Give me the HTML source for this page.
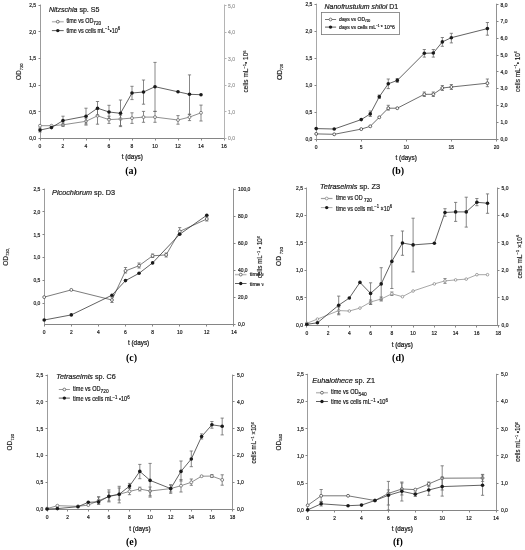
<!DOCTYPE html>
<html><head><meta charset="utf-8"><title>Growth curves</title>
<style>html,body{margin:0;padding:0;background:#fff;overflow:hidden}svg{display:block}</style>
</head><body>
<svg width="525" height="550" viewBox="0 0 525 550" font-family="'Liberation Sans', Arial, sans-serif">
<defs><clipPath id="clipc"><rect x="0" y="180" width="263.5" height="190"/></clipPath></defs>
<rect width="525" height="550" fill="#fff"/>
<line x1="40.50" y1="4.50" x2="40.50" y2="139.00" stroke="#9c9c9c" stroke-width="1.0" />
<line x1="40.50" y1="138.50" x2="224.50" y2="138.50" stroke="#858585" stroke-width="1.0" />
<line x1="224.50" y1="4.50" x2="224.50" y2="139.00" stroke="#b4b4b4" stroke-width="1.0" />
<line x1="40.50" y1="138.50" x2="40.50" y2="140.50" stroke="#858585" stroke-width="1.0" />
<text x="40.00" y="147.80" font-size="6.2" text-anchor="middle" textLength="2.76" lengthAdjust="spacingAndGlyphs" fill="#1a1a1a" stroke="#1a1a1a" stroke-width="0.22">0</text>
<line x1="63.50" y1="138.50" x2="63.50" y2="140.50" stroke="#858585" stroke-width="1.0" />
<text x="63.00" y="147.80" font-size="6.2" text-anchor="middle" textLength="2.76" lengthAdjust="spacingAndGlyphs" fill="#1a1a1a" stroke="#1a1a1a" stroke-width="0.22">2</text>
<line x1="86.50" y1="138.50" x2="86.50" y2="140.50" stroke="#858585" stroke-width="1.0" />
<text x="86.00" y="147.80" font-size="6.2" text-anchor="middle" textLength="2.76" lengthAdjust="spacingAndGlyphs" fill="#1a1a1a" stroke="#1a1a1a" stroke-width="0.22">4</text>
<line x1="109.50" y1="138.50" x2="109.50" y2="140.50" stroke="#858585" stroke-width="1.0" />
<text x="109.00" y="147.80" font-size="6.2" text-anchor="middle" textLength="2.76" lengthAdjust="spacingAndGlyphs" fill="#1a1a1a" stroke="#1a1a1a" stroke-width="0.22">6</text>
<line x1="132.50" y1="138.50" x2="132.50" y2="140.50" stroke="#858585" stroke-width="1.0" />
<text x="132.00" y="147.80" font-size="6.2" text-anchor="middle" textLength="2.76" lengthAdjust="spacingAndGlyphs" fill="#1a1a1a" stroke="#1a1a1a" stroke-width="0.22">8</text>
<line x1="155.50" y1="138.50" x2="155.50" y2="140.50" stroke="#858585" stroke-width="1.0" />
<text x="155.00" y="147.80" font-size="6.2" text-anchor="middle" textLength="5.52" lengthAdjust="spacingAndGlyphs" fill="#1a1a1a" stroke="#1a1a1a" stroke-width="0.22">10</text>
<line x1="178.50" y1="138.50" x2="178.50" y2="140.50" stroke="#858585" stroke-width="1.0" />
<text x="178.00" y="147.80" font-size="6.2" text-anchor="middle" textLength="5.52" lengthAdjust="spacingAndGlyphs" fill="#1a1a1a" stroke="#1a1a1a" stroke-width="0.22">12</text>
<line x1="201.50" y1="138.50" x2="201.50" y2="140.50" stroke="#858585" stroke-width="1.0" />
<text x="201.00" y="147.80" font-size="6.2" text-anchor="middle" textLength="5.52" lengthAdjust="spacingAndGlyphs" fill="#1a1a1a" stroke="#1a1a1a" stroke-width="0.22">14</text>
<line x1="224.50" y1="138.50" x2="224.50" y2="140.50" stroke="#858585" stroke-width="1.0" />
<text x="224.00" y="147.80" font-size="6.2" text-anchor="middle" textLength="5.52" lengthAdjust="spacingAndGlyphs" fill="#1a1a1a" stroke="#1a1a1a" stroke-width="0.22">16</text>
<line x1="38.50" y1="138.50" x2="40.50" y2="138.50" stroke="#858585" stroke-width="1.0" />
<text x="36.10" y="140.30" font-size="6.2" text-anchor="end" textLength="6.89" lengthAdjust="spacingAndGlyphs" fill="#1a1a1a" stroke="#1a1a1a" stroke-width="0.22">0,0</text>
<line x1="38.50" y1="111.50" x2="40.50" y2="111.50" stroke="#858585" stroke-width="1.0" />
<text x="36.10" y="113.60" font-size="6.2" text-anchor="end" textLength="6.89" lengthAdjust="spacingAndGlyphs" fill="#1a1a1a" stroke="#1a1a1a" stroke-width="0.22">0,5</text>
<line x1="38.50" y1="85.50" x2="40.50" y2="85.50" stroke="#858585" stroke-width="1.0" />
<text x="36.10" y="86.90" font-size="6.2" text-anchor="end" textLength="6.89" lengthAdjust="spacingAndGlyphs" fill="#1a1a1a" stroke="#1a1a1a" stroke-width="0.22">1,0</text>
<line x1="38.50" y1="58.50" x2="40.50" y2="58.50" stroke="#858585" stroke-width="1.0" />
<text x="36.10" y="60.20" font-size="6.2" text-anchor="end" textLength="6.89" lengthAdjust="spacingAndGlyphs" fill="#1a1a1a" stroke="#1a1a1a" stroke-width="0.22">1,5</text>
<line x1="38.50" y1="31.50" x2="40.50" y2="31.50" stroke="#858585" stroke-width="1.0" />
<text x="36.10" y="33.50" font-size="6.2" text-anchor="end" textLength="6.89" lengthAdjust="spacingAndGlyphs" fill="#1a1a1a" stroke="#1a1a1a" stroke-width="0.22">2,0</text>
<line x1="38.50" y1="5.50" x2="40.50" y2="5.50" stroke="#858585" stroke-width="1.0" />
<text x="36.10" y="6.80" font-size="6.2" text-anchor="end" textLength="6.89" lengthAdjust="spacingAndGlyphs" fill="#1a1a1a" stroke="#1a1a1a" stroke-width="0.22">2,5</text>
<line x1="224.50" y1="138.50" x2="226.50" y2="138.50" stroke="#b4b4b4" stroke-width="1.0" />
<text x="228.10" y="140.30" font-size="6.2" text-anchor="start" textLength="6.89" lengthAdjust="spacingAndGlyphs" fill="#999999" stroke="#999999" stroke-width="0.22">0,0</text>
<line x1="224.50" y1="111.50" x2="226.50" y2="111.50" stroke="#b4b4b4" stroke-width="1.0" />
<text x="228.10" y="113.74" font-size="6.2" text-anchor="start" textLength="6.89" lengthAdjust="spacingAndGlyphs" fill="#999999" stroke="#999999" stroke-width="0.22">1,0</text>
<line x1="224.50" y1="85.50" x2="226.50" y2="85.50" stroke="#b4b4b4" stroke-width="1.0" />
<text x="228.10" y="87.18" font-size="6.2" text-anchor="start" textLength="6.89" lengthAdjust="spacingAndGlyphs" fill="#999999" stroke="#999999" stroke-width="0.22">2,0</text>
<line x1="224.50" y1="58.50" x2="226.50" y2="58.50" stroke="#b4b4b4" stroke-width="1.0" />
<text x="228.10" y="60.62" font-size="6.2" text-anchor="start" textLength="6.89" lengthAdjust="spacingAndGlyphs" fill="#999999" stroke="#999999" stroke-width="0.22">3,0</text>
<line x1="224.50" y1="32.50" x2="226.50" y2="32.50" stroke="#b4b4b4" stroke-width="1.0" />
<text x="228.10" y="34.06" font-size="6.2" text-anchor="start" textLength="6.89" lengthAdjust="spacingAndGlyphs" fill="#999999" stroke="#999999" stroke-width="0.22">4,0</text>
<line x1="224.50" y1="5.50" x2="226.50" y2="5.50" stroke="#b4b4b4" stroke-width="1.0" />
<text x="228.10" y="7.50" font-size="6.2" text-anchor="start" textLength="6.89" lengthAdjust="spacingAndGlyphs" fill="#999999" stroke="#999999" stroke-width="0.22">5,0</text>
<polyline points="40.00,125.70 51.50,125.70 63.00,124.80 86.00,121.30 97.50,115.80 109.00,119.60 120.50,119.00 132.00,118.10 143.50,117.10 155.00,117.10 178.00,120.00 189.50,117.10 201.00,112.80" fill="none" stroke="#6a6a6a" stroke-width="0.75"/>
<line x1="63.00" y1="123.00" x2="63.00" y2="126.50" stroke="#6a6a6a" stroke-width="0.8" />
<line x1="61.40" y1="123.00" x2="64.60" y2="123.00" stroke="#6a6a6a" stroke-width="0.8" />
<line x1="61.40" y1="126.50" x2="64.60" y2="126.50" stroke="#6a6a6a" stroke-width="0.8" />
<line x1="86.00" y1="118.10" x2="86.00" y2="125.10" stroke="#6a6a6a" stroke-width="0.8" />
<line x1="84.40" y1="118.10" x2="87.60" y2="118.10" stroke="#6a6a6a" stroke-width="0.8" />
<line x1="84.40" y1="125.10" x2="87.60" y2="125.10" stroke="#6a6a6a" stroke-width="0.8" />
<line x1="97.50" y1="109.50" x2="97.50" y2="124.20" stroke="#6a6a6a" stroke-width="0.8" />
<line x1="95.90" y1="109.50" x2="99.10" y2="109.50" stroke="#6a6a6a" stroke-width="0.8" />
<line x1="95.90" y1="124.20" x2="99.10" y2="124.20" stroke="#6a6a6a" stroke-width="0.8" />
<line x1="109.00" y1="116.20" x2="109.00" y2="123.40" stroke="#6a6a6a" stroke-width="0.8" />
<line x1="107.40" y1="116.20" x2="110.60" y2="116.20" stroke="#6a6a6a" stroke-width="0.8" />
<line x1="107.40" y1="123.40" x2="110.60" y2="123.40" stroke="#6a6a6a" stroke-width="0.8" />
<line x1="120.50" y1="115.20" x2="120.50" y2="125.70" stroke="#6a6a6a" stroke-width="0.8" />
<line x1="118.90" y1="115.20" x2="122.10" y2="115.20" stroke="#6a6a6a" stroke-width="0.8" />
<line x1="118.90" y1="125.70" x2="122.10" y2="125.70" stroke="#6a6a6a" stroke-width="0.8" />
<line x1="132.00" y1="112.80" x2="132.00" y2="123.40" stroke="#6a6a6a" stroke-width="0.8" />
<line x1="130.40" y1="112.80" x2="133.60" y2="112.80" stroke="#6a6a6a" stroke-width="0.8" />
<line x1="130.40" y1="123.40" x2="133.60" y2="123.40" stroke="#6a6a6a" stroke-width="0.8" />
<line x1="143.50" y1="111.40" x2="143.50" y2="122.30" stroke="#6a6a6a" stroke-width="0.8" />
<line x1="141.90" y1="111.40" x2="145.10" y2="111.40" stroke="#6a6a6a" stroke-width="0.8" />
<line x1="141.90" y1="122.30" x2="145.10" y2="122.30" stroke="#6a6a6a" stroke-width="0.8" />
<line x1="155.00" y1="111.40" x2="155.00" y2="122.30" stroke="#6a6a6a" stroke-width="0.8" />
<line x1="153.40" y1="111.40" x2="156.60" y2="111.40" stroke="#6a6a6a" stroke-width="0.8" />
<line x1="153.40" y1="122.30" x2="156.60" y2="122.30" stroke="#6a6a6a" stroke-width="0.8" />
<line x1="178.00" y1="115.60" x2="178.00" y2="124.20" stroke="#6a6a6a" stroke-width="0.8" />
<line x1="176.40" y1="115.60" x2="179.60" y2="115.60" stroke="#6a6a6a" stroke-width="0.8" />
<line x1="176.40" y1="124.20" x2="179.60" y2="124.20" stroke="#6a6a6a" stroke-width="0.8" />
<line x1="189.50" y1="114.30" x2="189.50" y2="120.60" stroke="#6a6a6a" stroke-width="0.8" />
<line x1="187.90" y1="114.30" x2="191.10" y2="114.30" stroke="#6a6a6a" stroke-width="0.8" />
<line x1="187.90" y1="120.60" x2="191.10" y2="120.60" stroke="#6a6a6a" stroke-width="0.8" />
<line x1="201.00" y1="105.10" x2="201.00" y2="121.00" stroke="#6a6a6a" stroke-width="0.8" />
<line x1="199.40" y1="105.10" x2="202.60" y2="105.10" stroke="#6a6a6a" stroke-width="0.8" />
<line x1="199.40" y1="121.00" x2="202.60" y2="121.00" stroke="#6a6a6a" stroke-width="0.8" />
<circle cx="40.00" cy="125.70" r="1.45" fill="#fff" stroke="#6a6a6a" stroke-width="0.8"/>
<circle cx="51.50" cy="125.70" r="1.45" fill="#fff" stroke="#6a6a6a" stroke-width="0.8"/>
<circle cx="63.00" cy="124.80" r="1.45" fill="#fff" stroke="#6a6a6a" stroke-width="0.8"/>
<circle cx="86.00" cy="121.30" r="1.45" fill="#fff" stroke="#6a6a6a" stroke-width="0.8"/>
<circle cx="97.50" cy="115.80" r="1.45" fill="#fff" stroke="#6a6a6a" stroke-width="0.8"/>
<circle cx="109.00" cy="119.60" r="1.45" fill="#fff" stroke="#6a6a6a" stroke-width="0.8"/>
<circle cx="120.50" cy="119.00" r="1.45" fill="#fff" stroke="#6a6a6a" stroke-width="0.8"/>
<circle cx="132.00" cy="118.10" r="1.45" fill="#fff" stroke="#6a6a6a" stroke-width="0.8"/>
<circle cx="143.50" cy="117.10" r="1.45" fill="#fff" stroke="#6a6a6a" stroke-width="0.8"/>
<circle cx="155.00" cy="117.10" r="1.45" fill="#fff" stroke="#6a6a6a" stroke-width="0.8"/>
<circle cx="178.00" cy="120.00" r="1.45" fill="#fff" stroke="#6a6a6a" stroke-width="0.8"/>
<circle cx="189.50" cy="117.10" r="1.45" fill="#fff" stroke="#6a6a6a" stroke-width="0.8"/>
<circle cx="201.00" cy="112.80" r="1.45" fill="#fff" stroke="#6a6a6a" stroke-width="0.8"/>
<polyline points="40.00,130.10 51.50,127.60 63.00,120.60 86.00,116.20 97.50,108.20 109.00,112.00 120.50,113.30 132.00,93.00 143.50,92.00 155.00,86.70 178.00,91.80 189.50,94.30 201.00,94.70" fill="none" stroke="#2e2e2e" stroke-width="0.75"/>
<line x1="40.00" y1="128.00" x2="40.00" y2="132.00" stroke="#6a6a6a" stroke-width="0.8" />
<line x1="38.40" y1="128.00" x2="41.60" y2="128.00" stroke="#6a6a6a" stroke-width="0.8" />
<line x1="38.40" y1="132.00" x2="41.60" y2="132.00" stroke="#6a6a6a" stroke-width="0.8" />
<line x1="63.00" y1="116.20" x2="63.00" y2="125.00" stroke="#6a6a6a" stroke-width="0.8" />
<line x1="61.40" y1="116.20" x2="64.60" y2="116.20" stroke="#6a6a6a" stroke-width="0.8" />
<line x1="61.40" y1="125.00" x2="64.60" y2="125.00" stroke="#6a6a6a" stroke-width="0.8" />
<line x1="86.00" y1="108.20" x2="86.00" y2="124.00" stroke="#6a6a6a" stroke-width="0.8" />
<line x1="84.40" y1="108.20" x2="87.60" y2="108.20" stroke="#6a6a6a" stroke-width="0.8" />
<line x1="84.40" y1="124.00" x2="87.60" y2="124.00" stroke="#6a6a6a" stroke-width="0.8" />
<line x1="97.50" y1="101.50" x2="97.50" y2="115.00" stroke="#6a6a6a" stroke-width="0.8" />
<line x1="95.90" y1="101.50" x2="99.10" y2="101.50" stroke="#6a6a6a" stroke-width="0.8" />
<line x1="95.90" y1="115.00" x2="99.10" y2="115.00" stroke="#6a6a6a" stroke-width="0.8" />
<line x1="109.00" y1="105.30" x2="109.00" y2="118.70" stroke="#6a6a6a" stroke-width="0.8" />
<line x1="107.40" y1="105.30" x2="110.60" y2="105.30" stroke="#6a6a6a" stroke-width="0.8" />
<line x1="107.40" y1="118.70" x2="110.60" y2="118.70" stroke="#6a6a6a" stroke-width="0.8" />
<line x1="120.50" y1="100.00" x2="120.50" y2="126.60" stroke="#6a6a6a" stroke-width="0.8" />
<line x1="118.90" y1="100.00" x2="122.10" y2="100.00" stroke="#6a6a6a" stroke-width="0.8" />
<line x1="118.90" y1="126.60" x2="122.10" y2="126.60" stroke="#6a6a6a" stroke-width="0.8" />
<line x1="132.00" y1="86.30" x2="132.00" y2="99.60" stroke="#6a6a6a" stroke-width="0.8" />
<line x1="130.40" y1="86.30" x2="133.60" y2="86.30" stroke="#6a6a6a" stroke-width="0.8" />
<line x1="130.40" y1="99.60" x2="133.60" y2="99.60" stroke="#6a6a6a" stroke-width="0.8" />
<line x1="143.50" y1="80.00" x2="143.50" y2="104.20" stroke="#6a6a6a" stroke-width="0.8" />
<line x1="141.90" y1="80.00" x2="145.10" y2="80.00" stroke="#6a6a6a" stroke-width="0.8" />
<line x1="141.90" y1="104.20" x2="145.10" y2="104.20" stroke="#6a6a6a" stroke-width="0.8" />
<line x1="155.00" y1="62.40" x2="155.00" y2="111.40" stroke="#6a6a6a" stroke-width="0.8" />
<line x1="153.40" y1="62.40" x2="156.60" y2="62.40" stroke="#6a6a6a" stroke-width="0.8" />
<line x1="153.40" y1="111.40" x2="156.60" y2="111.40" stroke="#6a6a6a" stroke-width="0.8" />
<line x1="189.50" y1="74.90" x2="189.50" y2="114.30" stroke="#6a6a6a" stroke-width="0.8" />
<line x1="187.90" y1="74.90" x2="191.10" y2="74.90" stroke="#6a6a6a" stroke-width="0.8" />
<line x1="187.90" y1="114.30" x2="191.10" y2="114.30" stroke="#6a6a6a" stroke-width="0.8" />
<circle cx="40.00" cy="130.10" r="1.8" fill="#1a1a1a"/>
<circle cx="51.50" cy="127.60" r="1.8" fill="#1a1a1a"/>
<circle cx="63.00" cy="120.60" r="1.8" fill="#1a1a1a"/>
<circle cx="86.00" cy="116.20" r="1.8" fill="#1a1a1a"/>
<circle cx="97.50" cy="108.20" r="1.8" fill="#1a1a1a"/>
<circle cx="109.00" cy="112.00" r="1.8" fill="#1a1a1a"/>
<circle cx="120.50" cy="113.30" r="1.8" fill="#1a1a1a"/>
<circle cx="132.00" cy="93.00" r="1.8" fill="#1a1a1a"/>
<circle cx="143.50" cy="92.00" r="1.8" fill="#1a1a1a"/>
<circle cx="155.00" cy="86.70" r="1.8" fill="#1a1a1a"/>
<circle cx="178.00" cy="91.80" r="1.8" fill="#1a1a1a"/>
<circle cx="189.50" cy="94.30" r="1.8" fill="#1a1a1a"/>
<circle cx="201.00" cy="94.70" r="1.8" fill="#1a1a1a"/>
<text x="48.9" y="11.9" font-size="7.35" textLength="50.5" lengthAdjust="spacingAndGlyphs" fill="#1a1a1a" stroke="#1a1a1a" stroke-width="0.2"><tspan font-style="italic">Nitzschia</tspan> sp. S5</text>
<line x1="51.90" y1="21.70" x2="63.70" y2="21.70" stroke="#bdbdbd" stroke-width="1.5" />
<circle cx="57.80" cy="21.70" r="1.4" fill="#fff" stroke="#555" stroke-width="0.8"/>
<line x1="51.90" y1="30.60" x2="63.70" y2="30.60" stroke="#1a1a1a" stroke-width="0.7" />
<circle cx="57.80" cy="30.60" r="1.7" fill="#1a1a1a"/>
<text transform="translate(66.60,22.90) scale(0.8353846153846155,1)" font-size="6.5" fill="#1a1a1a" stroke="#1a1a1a" stroke-width="0.2">time vs OD<tspan font-size="5.6" dy="1.7">720</tspan></text>
<text transform="translate(66.60,33.10) scale(0.8353846153846155,1)" font-size="6.5" fill="#1a1a1a" stroke="#1a1a1a" stroke-width="0.2">time vs cells mL<tspan font-size="5.0" dy="-2.8">&#8722;1</tspan><tspan dy="2.8">&#8226;10</tspan><tspan font-size="5.2" dy="-2.8">6</tspan></text>
<text x="132.3" y="158.7" font-size="6.5" text-anchor="middle" textLength="21.3" lengthAdjust="spacingAndGlyphs" fill="#1a1a1a" stroke="#1a1a1a" stroke-width="0.22">t (days)</text>
<text x="131.1" y="173.6" font-size="10" text-anchor="middle" font-family="'Liberation Serif', 'Times New Roman', serif" font-weight="bold" fill="#000">(a)</text>
<text transform="translate(21.40,71.80) rotate(-90)" font-size="7.0" text-anchor="middle" fill="#1a1a1a" stroke="#1a1a1a" stroke-width="0.15" textLength="16.4" lengthAdjust="spacingAndGlyphs">OD<tspan font-size="4.4" dy="1.3">720</tspan></text>
<text transform="translate(248.10,71.40) rotate(-90)" font-size="7.0" text-anchor="middle" fill="#1a1a1a" stroke="#1a1a1a" stroke-width="0.15" textLength="42.0" lengthAdjust="spacingAndGlyphs">cells mL<tspan font-size="4.4" dy="-2.4">&#8722;1</tspan><tspan dy="2.4">&#8226; 10</tspan><tspan font-size="4.4" dy="-2.4">6</tspan></text>
<line x1="316.50" y1="3.70" x2="316.50" y2="140.00" stroke="#a8a8a8" stroke-width="1.0" />
<line x1="316.50" y1="139.50" x2="496.50" y2="139.50" stroke="#858585" stroke-width="1.0" />
<line x1="496.50" y1="3.70" x2="496.50" y2="140.00" stroke="#929292" stroke-width="1.0" />
<line x1="316.50" y1="139.50" x2="316.50" y2="141.50" stroke="#858585" stroke-width="1.0" />
<text x="316.20" y="148.80" font-size="6.2" text-anchor="middle" textLength="2.76" lengthAdjust="spacingAndGlyphs" fill="#1a1a1a" stroke="#1a1a1a" stroke-width="0.22">0</text>
<line x1="361.50" y1="139.50" x2="361.50" y2="141.50" stroke="#858585" stroke-width="1.0" />
<text x="361.25" y="148.80" font-size="6.2" text-anchor="middle" textLength="2.76" lengthAdjust="spacingAndGlyphs" fill="#1a1a1a" stroke="#1a1a1a" stroke-width="0.22">5</text>
<line x1="406.50" y1="139.50" x2="406.50" y2="141.50" stroke="#858585" stroke-width="1.0" />
<text x="406.30" y="148.80" font-size="6.2" text-anchor="middle" textLength="5.52" lengthAdjust="spacingAndGlyphs" fill="#1a1a1a" stroke="#1a1a1a" stroke-width="0.22">10</text>
<line x1="451.50" y1="139.50" x2="451.50" y2="141.50" stroke="#858585" stroke-width="1.0" />
<text x="451.35" y="148.80" font-size="6.2" text-anchor="middle" textLength="5.52" lengthAdjust="spacingAndGlyphs" fill="#1a1a1a" stroke="#1a1a1a" stroke-width="0.22">15</text>
<line x1="496.50" y1="139.50" x2="496.50" y2="141.50" stroke="#858585" stroke-width="1.0" />
<text x="496.40" y="148.80" font-size="6.2" text-anchor="middle" textLength="5.52" lengthAdjust="spacingAndGlyphs" fill="#1a1a1a" stroke="#1a1a1a" stroke-width="0.22">20</text>
<line x1="314.50" y1="139.50" x2="316.50" y2="139.50" stroke="#858585" stroke-width="1.0" />
<text x="312.30" y="140.80" font-size="6.2" text-anchor="end" textLength="6.89" lengthAdjust="spacingAndGlyphs" fill="#1a1a1a" stroke="#1a1a1a" stroke-width="0.22">0,0</text>
<line x1="314.50" y1="112.50" x2="316.50" y2="112.50" stroke="#858585" stroke-width="1.0" />
<text x="312.30" y="113.84" font-size="6.2" text-anchor="end" textLength="6.89" lengthAdjust="spacingAndGlyphs" fill="#1a1a1a" stroke="#1a1a1a" stroke-width="0.22">0,5</text>
<line x1="314.50" y1="85.50" x2="316.50" y2="85.50" stroke="#858585" stroke-width="1.0" />
<text x="312.30" y="86.88" font-size="6.2" text-anchor="end" textLength="6.89" lengthAdjust="spacingAndGlyphs" fill="#1a1a1a" stroke="#1a1a1a" stroke-width="0.22">1,0</text>
<line x1="314.50" y1="58.50" x2="316.50" y2="58.50" stroke="#858585" stroke-width="1.0" />
<text x="312.30" y="59.92" font-size="6.2" text-anchor="end" textLength="6.89" lengthAdjust="spacingAndGlyphs" fill="#1a1a1a" stroke="#1a1a1a" stroke-width="0.22">1,5</text>
<line x1="314.50" y1="31.50" x2="316.50" y2="31.50" stroke="#858585" stroke-width="1.0" />
<text x="312.30" y="32.96" font-size="6.2" text-anchor="end" textLength="6.89" lengthAdjust="spacingAndGlyphs" fill="#1a1a1a" stroke="#1a1a1a" stroke-width="0.22">2,0</text>
<line x1="314.50" y1="4.50" x2="316.50" y2="4.50" stroke="#858585" stroke-width="1.0" />
<text x="312.30" y="6.00" font-size="6.2" text-anchor="end" textLength="6.89" lengthAdjust="spacingAndGlyphs" fill="#1a1a1a" stroke="#1a1a1a" stroke-width="0.22">2,5</text>
<line x1="496.50" y1="139.50" x2="498.50" y2="139.50" stroke="#858585" stroke-width="1.0" />
<text x="500.50" y="140.80" font-size="6.2" text-anchor="start" textLength="6.89" lengthAdjust="spacingAndGlyphs" fill="#1a1a1a" stroke="#1a1a1a" stroke-width="0.22">0,0</text>
<line x1="496.50" y1="122.50" x2="498.50" y2="122.50" stroke="#858585" stroke-width="1.0" />
<text x="500.50" y="124.02" font-size="6.2" text-anchor="start" textLength="6.89" lengthAdjust="spacingAndGlyphs" fill="#1a1a1a" stroke="#1a1a1a" stroke-width="0.22">1,0</text>
<line x1="496.50" y1="105.50" x2="498.50" y2="105.50" stroke="#858585" stroke-width="1.0" />
<text x="500.50" y="107.25" font-size="6.2" text-anchor="start" textLength="6.89" lengthAdjust="spacingAndGlyphs" fill="#1a1a1a" stroke="#1a1a1a" stroke-width="0.22">2,0</text>
<line x1="496.50" y1="88.50" x2="498.50" y2="88.50" stroke="#858585" stroke-width="1.0" />
<text x="500.50" y="90.48" font-size="6.2" text-anchor="start" textLength="6.89" lengthAdjust="spacingAndGlyphs" fill="#1a1a1a" stroke="#1a1a1a" stroke-width="0.22">3,0</text>
<line x1="496.50" y1="71.50" x2="498.50" y2="71.50" stroke="#858585" stroke-width="1.0" />
<text x="500.50" y="73.70" font-size="6.2" text-anchor="start" textLength="6.89" lengthAdjust="spacingAndGlyphs" fill="#1a1a1a" stroke="#1a1a1a" stroke-width="0.22">4,0</text>
<line x1="496.50" y1="55.50" x2="498.50" y2="55.50" stroke="#858585" stroke-width="1.0" />
<text x="500.50" y="56.92" font-size="6.2" text-anchor="start" textLength="6.89" lengthAdjust="spacingAndGlyphs" fill="#1a1a1a" stroke="#1a1a1a" stroke-width="0.22">5,0</text>
<line x1="496.50" y1="38.50" x2="498.50" y2="38.50" stroke="#858585" stroke-width="1.0" />
<text x="500.50" y="40.15" font-size="6.2" text-anchor="start" textLength="6.89" lengthAdjust="spacingAndGlyphs" fill="#1a1a1a" stroke="#1a1a1a" stroke-width="0.22">6,0</text>
<line x1="496.50" y1="21.50" x2="498.50" y2="21.50" stroke="#858585" stroke-width="1.0" />
<text x="500.50" y="23.38" font-size="6.2" text-anchor="start" textLength="6.89" lengthAdjust="spacingAndGlyphs" fill="#1a1a1a" stroke="#1a1a1a" stroke-width="0.22">7,0</text>
<line x1="496.50" y1="4.50" x2="498.50" y2="4.50" stroke="#858585" stroke-width="1.0" />
<text x="500.50" y="6.60" font-size="6.2" text-anchor="start" textLength="6.89" lengthAdjust="spacingAndGlyphs" fill="#1a1a1a" stroke="#1a1a1a" stroke-width="0.22">8,0</text>
<polyline points="316.20,133.90 334.22,134.30 361.25,129.10 370.26,126.30 379.27,117.30 388.28,108.20 397.29,108.20 424.32,94.30 433.33,94.30 442.34,88.00 451.35,87.00 487.39,83.20" fill="none" stroke="#3c3c3c" stroke-width="0.75"/>
<line x1="388.28" y1="105.30" x2="388.28" y2="110.10" stroke="#6a6a6a" stroke-width="0.8" />
<line x1="386.68" y1="105.30" x2="389.88" y2="105.30" stroke="#6a6a6a" stroke-width="0.8" />
<line x1="386.68" y1="110.10" x2="389.88" y2="110.10" stroke="#6a6a6a" stroke-width="0.8" />
<line x1="424.32" y1="92.00" x2="424.32" y2="96.50" stroke="#6a6a6a" stroke-width="0.8" />
<line x1="422.72" y1="92.00" x2="425.92" y2="92.00" stroke="#6a6a6a" stroke-width="0.8" />
<line x1="422.72" y1="96.50" x2="425.92" y2="96.50" stroke="#6a6a6a" stroke-width="0.8" />
<line x1="433.33" y1="92.00" x2="433.33" y2="96.50" stroke="#6a6a6a" stroke-width="0.8" />
<line x1="431.73" y1="92.00" x2="434.93" y2="92.00" stroke="#6a6a6a" stroke-width="0.8" />
<line x1="431.73" y1="96.50" x2="434.93" y2="96.50" stroke="#6a6a6a" stroke-width="0.8" />
<line x1="442.34" y1="85.50" x2="442.34" y2="90.50" stroke="#6a6a6a" stroke-width="0.8" />
<line x1="440.74" y1="85.50" x2="443.94" y2="85.50" stroke="#6a6a6a" stroke-width="0.8" />
<line x1="440.74" y1="90.50" x2="443.94" y2="90.50" stroke="#6a6a6a" stroke-width="0.8" />
<line x1="451.35" y1="84.50" x2="451.35" y2="89.50" stroke="#6a6a6a" stroke-width="0.8" />
<line x1="449.75" y1="84.50" x2="452.95" y2="84.50" stroke="#6a6a6a" stroke-width="0.8" />
<line x1="449.75" y1="89.50" x2="452.95" y2="89.50" stroke="#6a6a6a" stroke-width="0.8" />
<line x1="487.39" y1="79.00" x2="487.39" y2="86.70" stroke="#6a6a6a" stroke-width="0.8" />
<line x1="485.79" y1="79.00" x2="488.99" y2="79.00" stroke="#6a6a6a" stroke-width="0.8" />
<line x1="485.79" y1="86.70" x2="488.99" y2="86.70" stroke="#6a6a6a" stroke-width="0.8" />
<circle cx="316.20" cy="133.90" r="1.45" fill="#fff" stroke="#3c3c3c" stroke-width="0.8"/>
<circle cx="334.22" cy="134.30" r="1.45" fill="#fff" stroke="#3c3c3c" stroke-width="0.8"/>
<circle cx="361.25" cy="129.10" r="1.45" fill="#fff" stroke="#3c3c3c" stroke-width="0.8"/>
<circle cx="370.26" cy="126.30" r="1.45" fill="#fff" stroke="#3c3c3c" stroke-width="0.8"/>
<circle cx="379.27" cy="117.30" r="1.45" fill="#fff" stroke="#3c3c3c" stroke-width="0.8"/>
<circle cx="388.28" cy="108.20" r="1.45" fill="#fff" stroke="#3c3c3c" stroke-width="0.8"/>
<circle cx="397.29" cy="108.20" r="1.45" fill="#fff" stroke="#3c3c3c" stroke-width="0.8"/>
<circle cx="424.32" cy="94.30" r="1.45" fill="#fff" stroke="#3c3c3c" stroke-width="0.8"/>
<circle cx="433.33" cy="94.30" r="1.45" fill="#fff" stroke="#3c3c3c" stroke-width="0.8"/>
<circle cx="442.34" cy="88.00" r="1.45" fill="#fff" stroke="#3c3c3c" stroke-width="0.8"/>
<circle cx="451.35" cy="87.00" r="1.45" fill="#fff" stroke="#3c3c3c" stroke-width="0.8"/>
<circle cx="487.39" cy="83.20" r="1.45" fill="#fff" stroke="#3c3c3c" stroke-width="0.8"/>
<polyline points="316.20,128.60 334.22,129.00 361.25,119.60 370.26,113.90 379.27,96.80 388.28,83.80 397.29,80.40 424.32,53.30 433.33,53.00 442.34,41.90 451.35,37.70 487.39,28.60" fill="none" stroke="#2e2e2e" stroke-width="0.75"/>
<line x1="370.26" y1="111.00" x2="370.26" y2="116.50" stroke="#6a6a6a" stroke-width="0.8" />
<line x1="368.66" y1="111.00" x2="371.86" y2="111.00" stroke="#6a6a6a" stroke-width="0.8" />
<line x1="368.66" y1="116.50" x2="371.86" y2="116.50" stroke="#6a6a6a" stroke-width="0.8" />
<line x1="379.27" y1="95.00" x2="379.27" y2="98.50" stroke="#6a6a6a" stroke-width="0.8" />
<line x1="377.67" y1="95.00" x2="380.87" y2="95.00" stroke="#6a6a6a" stroke-width="0.8" />
<line x1="377.67" y1="98.50" x2="380.87" y2="98.50" stroke="#6a6a6a" stroke-width="0.8" />
<line x1="388.28" y1="79.00" x2="388.28" y2="88.60" stroke="#6a6a6a" stroke-width="0.8" />
<line x1="386.68" y1="79.00" x2="389.88" y2="79.00" stroke="#6a6a6a" stroke-width="0.8" />
<line x1="386.68" y1="88.60" x2="389.88" y2="88.60" stroke="#6a6a6a" stroke-width="0.8" />
<line x1="397.29" y1="78.50" x2="397.29" y2="82.30" stroke="#6a6a6a" stroke-width="0.8" />
<line x1="395.69" y1="78.50" x2="398.89" y2="78.50" stroke="#6a6a6a" stroke-width="0.8" />
<line x1="395.69" y1="82.30" x2="398.89" y2="82.30" stroke="#6a6a6a" stroke-width="0.8" />
<line x1="424.32" y1="49.50" x2="424.32" y2="57.10" stroke="#6a6a6a" stroke-width="0.8" />
<line x1="422.72" y1="49.50" x2="425.92" y2="49.50" stroke="#6a6a6a" stroke-width="0.8" />
<line x1="422.72" y1="57.10" x2="425.92" y2="57.10" stroke="#6a6a6a" stroke-width="0.8" />
<line x1="433.33" y1="49.50" x2="433.33" y2="57.10" stroke="#6a6a6a" stroke-width="0.8" />
<line x1="431.73" y1="49.50" x2="434.93" y2="49.50" stroke="#6a6a6a" stroke-width="0.8" />
<line x1="431.73" y1="57.10" x2="434.93" y2="57.10" stroke="#6a6a6a" stroke-width="0.8" />
<line x1="442.34" y1="37.50" x2="442.34" y2="46.30" stroke="#6a6a6a" stroke-width="0.8" />
<line x1="440.74" y1="37.50" x2="443.94" y2="37.50" stroke="#6a6a6a" stroke-width="0.8" />
<line x1="440.74" y1="46.30" x2="443.94" y2="46.30" stroke="#6a6a6a" stroke-width="0.8" />
<line x1="451.35" y1="33.30" x2="451.35" y2="42.90" stroke="#6a6a6a" stroke-width="0.8" />
<line x1="449.75" y1="33.30" x2="452.95" y2="33.30" stroke="#6a6a6a" stroke-width="0.8" />
<line x1="449.75" y1="42.90" x2="452.95" y2="42.90" stroke="#6a6a6a" stroke-width="0.8" />
<line x1="487.39" y1="22.50" x2="487.39" y2="35.20" stroke="#6a6a6a" stroke-width="0.8" />
<line x1="485.79" y1="22.50" x2="488.99" y2="22.50" stroke="#6a6a6a" stroke-width="0.8" />
<line x1="485.79" y1="35.20" x2="488.99" y2="35.20" stroke="#6a6a6a" stroke-width="0.8" />
<circle cx="316.20" cy="128.60" r="1.8" fill="#1a1a1a"/>
<circle cx="334.22" cy="129.00" r="1.8" fill="#1a1a1a"/>
<circle cx="361.25" cy="119.60" r="1.8" fill="#1a1a1a"/>
<circle cx="370.26" cy="113.90" r="1.8" fill="#1a1a1a"/>
<circle cx="379.27" cy="96.80" r="1.8" fill="#1a1a1a"/>
<circle cx="388.28" cy="83.80" r="1.8" fill="#1a1a1a"/>
<circle cx="397.29" cy="80.40" r="1.8" fill="#1a1a1a"/>
<circle cx="424.32" cy="53.30" r="1.8" fill="#1a1a1a"/>
<circle cx="433.33" cy="53.00" r="1.8" fill="#1a1a1a"/>
<circle cx="442.34" cy="41.90" r="1.8" fill="#1a1a1a"/>
<circle cx="451.35" cy="37.70" r="1.8" fill="#1a1a1a"/>
<circle cx="487.39" cy="28.60" r="1.8" fill="#1a1a1a"/>
<text x="324.6" y="8.9" font-size="7.35" textLength="73.5" lengthAdjust="spacingAndGlyphs" fill="#1a1a1a" stroke="#1a1a1a" stroke-width="0.2"><tspan font-style="italic">Nanofrustulum shiloi</tspan> D1</text>
<rect x="321.4" y="12.4" width="78.1" height="22.2" fill="none" stroke="#777" stroke-width="0.8"/>
<line x1="325.00" y1="19.50" x2="336.10" y2="19.50" stroke="#777" stroke-width="1.0" />
<circle cx="330.55" cy="19.50" r="1.4" fill="#fff" stroke="#555" stroke-width="0.8"/>
<line x1="325.00" y1="27.10" x2="336.10" y2="27.10" stroke="#1a1a1a" stroke-width="0.7" />
<circle cx="330.55" cy="27.10" r="1.7" fill="#1a1a1a"/>
<text transform="translate(339.10,20.90) scale(0.95,1)" font-size="5.3" fill="#1a1a1a" stroke="#1a1a1a" stroke-width="0.2">days vs OD<tspan font-size="3.2" dy="1.3">720</tspan></text>
<text transform="translate(339.10,28.90) scale(0.95,1)" font-size="5.3" fill="#1a1a1a" stroke="#1a1a1a" stroke-width="0.2">days vs cells mL<tspan font-size="3.2" dy="-2.0">&#8722;1</tspan><tspan dy="2.0"> * 10^6</tspan></text>
<text x="406.2" y="159.9" font-size="6.5" text-anchor="middle" textLength="21.3" lengthAdjust="spacingAndGlyphs" fill="#1a1a1a" stroke="#1a1a1a" stroke-width="0.22">t (days)</text>
<text x="398.0" y="174.0" font-size="10" text-anchor="middle" font-family="'Liberation Serif', 'Times New Roman', serif" font-weight="bold" fill="#000">(b)</text>
<text transform="translate(281.80,72.00) rotate(-90)" font-size="6.8" text-anchor="middle" fill="#1a1a1a" stroke="#1a1a1a" stroke-width="0.15" textLength="16.0" lengthAdjust="spacingAndGlyphs">OD<tspan font-size="3.6" dy="1.3">720</tspan></text>
<text transform="translate(519.80,71.40) rotate(-90)" font-size="7.0" text-anchor="middle" fill="#1a1a1a" stroke="#1a1a1a" stroke-width="0.15" textLength="41.0" lengthAdjust="spacingAndGlyphs">cells mL<tspan font-size="4.0" dy="-2.4">&#8722;1</tspan><tspan dy="2.4">&#8226; 10</tspan><tspan font-size="4.4" dy="-2.4">6</tspan></text>
<g clip-path="url(#clipc)">
<line x1="44.50" y1="188.60" x2="44.50" y2="325.00" stroke="#9c9c9c" stroke-width="1.0" />
<line x1="44.50" y1="324.50" x2="233.50" y2="324.50" stroke="#858585" stroke-width="1.0" />
<line x1="233.50" y1="188.60" x2="233.50" y2="325.00" stroke="#929292" stroke-width="1.0" />
<line x1="44.50" y1="324.50" x2="44.50" y2="326.50" stroke="#858585" stroke-width="1.0" />
<text x="44.20" y="333.80" font-size="6.2" text-anchor="middle" textLength="2.76" lengthAdjust="spacingAndGlyphs" fill="#1a1a1a" stroke="#1a1a1a" stroke-width="0.22">0</text>
<line x1="71.50" y1="324.50" x2="71.50" y2="326.50" stroke="#858585" stroke-width="1.0" />
<text x="71.30" y="333.80" font-size="6.2" text-anchor="middle" textLength="2.76" lengthAdjust="spacingAndGlyphs" fill="#1a1a1a" stroke="#1a1a1a" stroke-width="0.22">2</text>
<line x1="98.50" y1="324.50" x2="98.50" y2="326.50" stroke="#858585" stroke-width="1.0" />
<text x="98.40" y="333.80" font-size="6.2" text-anchor="middle" textLength="2.76" lengthAdjust="spacingAndGlyphs" fill="#1a1a1a" stroke="#1a1a1a" stroke-width="0.22">4</text>
<line x1="125.50" y1="324.50" x2="125.50" y2="326.50" stroke="#858585" stroke-width="1.0" />
<text x="125.50" y="333.80" font-size="6.2" text-anchor="middle" textLength="2.76" lengthAdjust="spacingAndGlyphs" fill="#1a1a1a" stroke="#1a1a1a" stroke-width="0.22">6</text>
<line x1="152.50" y1="324.50" x2="152.50" y2="326.50" stroke="#858585" stroke-width="1.0" />
<text x="152.60" y="333.80" font-size="6.2" text-anchor="middle" textLength="2.76" lengthAdjust="spacingAndGlyphs" fill="#1a1a1a" stroke="#1a1a1a" stroke-width="0.22">8</text>
<line x1="179.50" y1="324.50" x2="179.50" y2="326.50" stroke="#858585" stroke-width="1.0" />
<text x="179.70" y="333.80" font-size="6.2" text-anchor="middle" textLength="5.52" lengthAdjust="spacingAndGlyphs" fill="#1a1a1a" stroke="#1a1a1a" stroke-width="0.22">10</text>
<line x1="206.50" y1="324.50" x2="206.50" y2="326.50" stroke="#858585" stroke-width="1.0" />
<text x="206.80" y="333.80" font-size="6.2" text-anchor="middle" textLength="5.52" lengthAdjust="spacingAndGlyphs" fill="#1a1a1a" stroke="#1a1a1a" stroke-width="0.22">12</text>
<line x1="233.50" y1="324.50" x2="233.50" y2="326.50" stroke="#858585" stroke-width="1.0" />
<text x="233.90" y="333.80" font-size="6.2" text-anchor="middle" textLength="5.52" lengthAdjust="spacingAndGlyphs" fill="#1a1a1a" stroke="#1a1a1a" stroke-width="0.22">14</text>
<line x1="42.50" y1="303.50" x2="44.50" y2="303.50" stroke="#858585" stroke-width="1.0" />
<text x="40.30" y="305.20" font-size="6.2" text-anchor="end" textLength="6.89" lengthAdjust="spacingAndGlyphs" fill="#1a1a1a" stroke="#1a1a1a" stroke-width="0.22">0,0</text>
<line x1="42.50" y1="280.50" x2="44.50" y2="280.50" stroke="#858585" stroke-width="1.0" />
<text x="40.30" y="282.34" font-size="6.2" text-anchor="end" textLength="6.89" lengthAdjust="spacingAndGlyphs" fill="#1a1a1a" stroke="#1a1a1a" stroke-width="0.22">0,5</text>
<line x1="42.50" y1="257.50" x2="44.50" y2="257.50" stroke="#858585" stroke-width="1.0" />
<text x="40.30" y="259.48" font-size="6.2" text-anchor="end" textLength="6.89" lengthAdjust="spacingAndGlyphs" fill="#1a1a1a" stroke="#1a1a1a" stroke-width="0.22">1,0</text>
<line x1="42.50" y1="234.50" x2="44.50" y2="234.50" stroke="#858585" stroke-width="1.0" />
<text x="40.30" y="236.62" font-size="6.2" text-anchor="end" textLength="6.89" lengthAdjust="spacingAndGlyphs" fill="#1a1a1a" stroke="#1a1a1a" stroke-width="0.22">1,5</text>
<line x1="42.50" y1="211.50" x2="44.50" y2="211.50" stroke="#858585" stroke-width="1.0" />
<text x="40.30" y="213.76" font-size="6.2" text-anchor="end" textLength="6.89" lengthAdjust="spacingAndGlyphs" fill="#1a1a1a" stroke="#1a1a1a" stroke-width="0.22">2,0</text>
<line x1="42.50" y1="189.50" x2="44.50" y2="189.50" stroke="#858585" stroke-width="1.0" />
<text x="40.30" y="190.90" font-size="6.2" text-anchor="end" textLength="6.89" lengthAdjust="spacingAndGlyphs" fill="#1a1a1a" stroke="#1a1a1a" stroke-width="0.22">2,5</text>
<line x1="233.50" y1="324.50" x2="235.50" y2="324.50" stroke="#858585" stroke-width="1.0" />
<text x="237.90" y="326.10" font-size="6.2" text-anchor="start" textLength="6.89" lengthAdjust="spacingAndGlyphs" fill="#1a1a1a" stroke="#1a1a1a" stroke-width="0.22">0,0</text>
<line x1="233.50" y1="297.50" x2="235.50" y2="297.50" stroke="#858585" stroke-width="1.0" />
<text x="237.90" y="299.06" font-size="6.2" text-anchor="start" textLength="9.65" lengthAdjust="spacingAndGlyphs" fill="#1a1a1a" stroke="#1a1a1a" stroke-width="0.22">20,0</text>
<line x1="233.50" y1="270.50" x2="235.50" y2="270.50" stroke="#858585" stroke-width="1.0" />
<text x="237.90" y="272.02" font-size="6.2" text-anchor="start" textLength="9.65" lengthAdjust="spacingAndGlyphs" fill="#1a1a1a" stroke="#1a1a1a" stroke-width="0.22">40,0</text>
<line x1="233.50" y1="243.50" x2="235.50" y2="243.50" stroke="#858585" stroke-width="1.0" />
<text x="237.90" y="244.98" font-size="6.2" text-anchor="start" textLength="9.65" lengthAdjust="spacingAndGlyphs" fill="#1a1a1a" stroke="#1a1a1a" stroke-width="0.22">60,0</text>
<line x1="233.50" y1="216.50" x2="235.50" y2="216.50" stroke="#858585" stroke-width="1.0" />
<text x="237.90" y="217.94" font-size="6.2" text-anchor="start" textLength="9.65" lengthAdjust="spacingAndGlyphs" fill="#1a1a1a" stroke="#1a1a1a" stroke-width="0.22">80,0</text>
<line x1="233.50" y1="189.50" x2="235.50" y2="189.50" stroke="#858585" stroke-width="1.0" />
<text x="237.90" y="190.90" font-size="6.2" text-anchor="start" textLength="12.41" lengthAdjust="spacingAndGlyphs" fill="#1a1a1a" stroke="#1a1a1a" stroke-width="0.22">100,0</text>
<polyline points="44.20,297.10 71.30,289.90 111.95,300.00 125.50,270.90 139.05,265.70 152.60,255.80 166.15,254.90 179.70,231.40 206.80,219.00" fill="none" stroke="#505050" stroke-width="0.75"/>
<line x1="111.95" y1="297.00" x2="111.95" y2="302.50" stroke="#6a6a6a" stroke-width="0.8" />
<line x1="110.35" y1="297.00" x2="113.55" y2="297.00" stroke="#6a6a6a" stroke-width="0.8" />
<line x1="110.35" y1="302.50" x2="113.55" y2="302.50" stroke="#6a6a6a" stroke-width="0.8" />
<line x1="125.50" y1="267.50" x2="125.50" y2="273.00" stroke="#6a6a6a" stroke-width="0.8" />
<line x1="123.90" y1="267.50" x2="127.10" y2="267.50" stroke="#6a6a6a" stroke-width="0.8" />
<line x1="123.90" y1="273.00" x2="127.10" y2="273.00" stroke="#6a6a6a" stroke-width="0.8" />
<line x1="139.05" y1="263.00" x2="139.05" y2="268.00" stroke="#6a6a6a" stroke-width="0.8" />
<line x1="137.45" y1="263.00" x2="140.65" y2="263.00" stroke="#6a6a6a" stroke-width="0.8" />
<line x1="137.45" y1="268.00" x2="140.65" y2="268.00" stroke="#6a6a6a" stroke-width="0.8" />
<line x1="152.60" y1="254.00" x2="152.60" y2="257.50" stroke="#6a6a6a" stroke-width="0.8" />
<line x1="151.00" y1="254.00" x2="154.20" y2="254.00" stroke="#6a6a6a" stroke-width="0.8" />
<line x1="151.00" y1="257.50" x2="154.20" y2="257.50" stroke="#6a6a6a" stroke-width="0.8" />
<line x1="166.15" y1="253.00" x2="166.15" y2="257.00" stroke="#6a6a6a" stroke-width="0.8" />
<line x1="164.55" y1="253.00" x2="167.75" y2="253.00" stroke="#6a6a6a" stroke-width="0.8" />
<line x1="164.55" y1="257.00" x2="167.75" y2="257.00" stroke="#6a6a6a" stroke-width="0.8" />
<line x1="179.70" y1="227.60" x2="179.70" y2="234.00" stroke="#6a6a6a" stroke-width="0.8" />
<line x1="178.10" y1="227.60" x2="181.30" y2="227.60" stroke="#6a6a6a" stroke-width="0.8" />
<line x1="178.10" y1="234.00" x2="181.30" y2="234.00" stroke="#6a6a6a" stroke-width="0.8" />
<line x1="206.80" y1="217.00" x2="206.80" y2="221.00" stroke="#6a6a6a" stroke-width="0.8" />
<line x1="205.20" y1="217.00" x2="208.40" y2="217.00" stroke="#6a6a6a" stroke-width="0.8" />
<line x1="205.20" y1="221.00" x2="208.40" y2="221.00" stroke="#6a6a6a" stroke-width="0.8" />
<circle cx="44.20" cy="297.10" r="1.45" fill="#fff" stroke="#505050" stroke-width="0.8"/>
<circle cx="71.30" cy="289.90" r="1.45" fill="#fff" stroke="#505050" stroke-width="0.8"/>
<circle cx="111.95" cy="300.00" r="1.45" fill="#fff" stroke="#505050" stroke-width="0.8"/>
<circle cx="125.50" cy="270.90" r="1.45" fill="#fff" stroke="#505050" stroke-width="0.8"/>
<circle cx="139.05" cy="265.70" r="1.45" fill="#fff" stroke="#505050" stroke-width="0.8"/>
<circle cx="152.60" cy="255.80" r="1.45" fill="#fff" stroke="#505050" stroke-width="0.8"/>
<circle cx="166.15" cy="254.90" r="1.45" fill="#fff" stroke="#505050" stroke-width="0.8"/>
<circle cx="179.70" cy="231.40" r="1.45" fill="#fff" stroke="#505050" stroke-width="0.8"/>
<circle cx="206.80" cy="219.00" r="1.45" fill="#fff" stroke="#505050" stroke-width="0.8"/>
<polyline points="44.20,320.00 71.30,314.90 111.95,295.20 125.50,280.60 139.05,273.30 152.60,262.90 179.70,234.30 206.80,215.20" fill="none" stroke="#2e2e2e" stroke-width="0.75"/>
<circle cx="44.20" cy="320.00" r="1.8" fill="#1a1a1a"/>
<circle cx="71.30" cy="314.90" r="1.8" fill="#1a1a1a"/>
<circle cx="111.95" cy="295.20" r="1.8" fill="#1a1a1a"/>
<circle cx="125.50" cy="280.60" r="1.8" fill="#1a1a1a"/>
<circle cx="139.05" cy="273.30" r="1.8" fill="#1a1a1a"/>
<circle cx="152.60" cy="262.90" r="1.8" fill="#1a1a1a"/>
<circle cx="179.70" cy="234.30" r="1.8" fill="#1a1a1a"/>
<circle cx="206.80" cy="215.20" r="1.8" fill="#1a1a1a"/>
<text x="52.1" y="195.0" font-size="7.35" textLength="63.0" lengthAdjust="spacingAndGlyphs" fill="#1a1a1a" stroke="#1a1a1a" stroke-width="0.2"><tspan font-style="italic">Picochlorum</tspan> sp. D3</text>
<line x1="235.00" y1="274.60" x2="246.50" y2="274.60" stroke="#bdbdbd" stroke-width="1.5" />
<circle cx="240.75" cy="274.60" r="1.4" fill="#fff" stroke="#555" stroke-width="0.8"/>
<line x1="235.00" y1="283.50" x2="246.50" y2="283.50" stroke="#1a1a1a" stroke-width="0.7" />
<circle cx="240.75" cy="283.50" r="1.7" fill="#1a1a1a"/>
<text transform="translate(249.70,275.80) scale(0.98,1)" font-size="5.6" fill="#1a1a1a" stroke="#1a1a1a" stroke-width="0.2">time vs OD<tspan font-size="4.6" dy="1.5">720</tspan></text>
<text transform="translate(249.70,286.30) scale(0.98,1)" font-size="5.6" fill="#1a1a1a" stroke="#1a1a1a" stroke-width="0.2">time vs cells</text>
<text x="138.6" y="345.3" font-size="6.5" text-anchor="middle" textLength="21.3" lengthAdjust="spacingAndGlyphs" fill="#1a1a1a" stroke="#1a1a1a" stroke-width="0.22">t (days)</text>
<text x="131.6" y="360.7" font-size="10" text-anchor="middle" font-family="'Liberation Serif', 'Times New Roman', serif" font-weight="bold" fill="#000">(c)</text>
<text transform="translate(7.90,257.00) rotate(-90)" font-size="7.0" text-anchor="middle" fill="#1a1a1a" stroke="#1a1a1a" stroke-width="0.15" textLength="17.7" lengthAdjust="spacingAndGlyphs">OD<tspan font-size="4.4" dy="1.3">720,</tspan></text>
<text transform="translate(262.30,257.00) rotate(-90)" font-size="7.0" text-anchor="middle" fill="#1a1a1a" stroke="#1a1a1a" stroke-width="0.15" textLength="42.0" lengthAdjust="spacingAndGlyphs">cells mL<tspan font-size="4.4" dy="-2.4">&#8722;1</tspan><tspan dy="2.4"> &#8226; 10</tspan><tspan font-size="4.4" dy="-2.4">6</tspan></text>
</g>
<line x1="306.50" y1="187.50" x2="306.50" y2="326.00" stroke="#9c9c9c" stroke-width="1.0" />
<line x1="306.50" y1="325.50" x2="497.50" y2="325.50" stroke="#858585" stroke-width="1.0" />
<line x1="497.50" y1="187.50" x2="497.50" y2="326.00" stroke="#929292" stroke-width="1.0" />
<line x1="306.50" y1="325.50" x2="306.50" y2="327.50" stroke="#858585" stroke-width="1.0" />
<text x="306.80" y="334.80" font-size="6.2" text-anchor="middle" textLength="2.76" lengthAdjust="spacingAndGlyphs" fill="#1a1a1a" stroke="#1a1a1a" stroke-width="0.22">0</text>
<line x1="328.50" y1="325.50" x2="328.50" y2="327.50" stroke="#858585" stroke-width="1.0" />
<text x="328.06" y="334.80" font-size="6.2" text-anchor="middle" textLength="2.76" lengthAdjust="spacingAndGlyphs" fill="#1a1a1a" stroke="#1a1a1a" stroke-width="0.22">2</text>
<line x1="349.50" y1="325.50" x2="349.50" y2="327.50" stroke="#858585" stroke-width="1.0" />
<text x="349.32" y="334.80" font-size="6.2" text-anchor="middle" textLength="2.76" lengthAdjust="spacingAndGlyphs" fill="#1a1a1a" stroke="#1a1a1a" stroke-width="0.22">4</text>
<line x1="370.50" y1="325.50" x2="370.50" y2="327.50" stroke="#858585" stroke-width="1.0" />
<text x="370.58" y="334.80" font-size="6.2" text-anchor="middle" textLength="2.76" lengthAdjust="spacingAndGlyphs" fill="#1a1a1a" stroke="#1a1a1a" stroke-width="0.22">6</text>
<line x1="391.50" y1="325.50" x2="391.50" y2="327.50" stroke="#858585" stroke-width="1.0" />
<text x="391.84" y="334.80" font-size="6.2" text-anchor="middle" textLength="2.76" lengthAdjust="spacingAndGlyphs" fill="#1a1a1a" stroke="#1a1a1a" stroke-width="0.22">8</text>
<line x1="413.50" y1="325.50" x2="413.50" y2="327.50" stroke="#858585" stroke-width="1.0" />
<text x="413.10" y="334.80" font-size="6.2" text-anchor="middle" textLength="5.52" lengthAdjust="spacingAndGlyphs" fill="#1a1a1a" stroke="#1a1a1a" stroke-width="0.22">10</text>
<line x1="434.50" y1="325.50" x2="434.50" y2="327.50" stroke="#858585" stroke-width="1.0" />
<text x="434.36" y="334.80" font-size="6.2" text-anchor="middle" textLength="5.52" lengthAdjust="spacingAndGlyphs" fill="#1a1a1a" stroke="#1a1a1a" stroke-width="0.22">12</text>
<line x1="455.50" y1="325.50" x2="455.50" y2="327.50" stroke="#858585" stroke-width="1.0" />
<text x="455.62" y="334.80" font-size="6.2" text-anchor="middle" textLength="5.52" lengthAdjust="spacingAndGlyphs" fill="#1a1a1a" stroke="#1a1a1a" stroke-width="0.22">14</text>
<line x1="476.50" y1="325.50" x2="476.50" y2="327.50" stroke="#858585" stroke-width="1.0" />
<text x="476.88" y="334.80" font-size="6.2" text-anchor="middle" textLength="5.52" lengthAdjust="spacingAndGlyphs" fill="#1a1a1a" stroke="#1a1a1a" stroke-width="0.22">16</text>
<line x1="498.50" y1="325.50" x2="498.50" y2="327.50" stroke="#858585" stroke-width="1.0" />
<text x="498.14" y="334.80" font-size="6.2" text-anchor="middle" textLength="5.52" lengthAdjust="spacingAndGlyphs" fill="#1a1a1a" stroke="#1a1a1a" stroke-width="0.22">18</text>
<line x1="304.50" y1="325.50" x2="306.50" y2="325.50" stroke="#858585" stroke-width="1.0" />
<text x="302.90" y="327.20" font-size="6.2" text-anchor="end" textLength="6.89" lengthAdjust="spacingAndGlyphs" fill="#1a1a1a" stroke="#1a1a1a" stroke-width="0.22">0,0</text>
<line x1="304.50" y1="297.50" x2="306.50" y2="297.50" stroke="#858585" stroke-width="1.0" />
<text x="302.90" y="299.72" font-size="6.2" text-anchor="end" textLength="6.89" lengthAdjust="spacingAndGlyphs" fill="#1a1a1a" stroke="#1a1a1a" stroke-width="0.22">0,5</text>
<line x1="304.50" y1="270.50" x2="306.50" y2="270.50" stroke="#858585" stroke-width="1.0" />
<text x="302.90" y="272.24" font-size="6.2" text-anchor="end" textLength="6.89" lengthAdjust="spacingAndGlyphs" fill="#1a1a1a" stroke="#1a1a1a" stroke-width="0.22">1,0</text>
<line x1="304.50" y1="242.50" x2="306.50" y2="242.50" stroke="#858585" stroke-width="1.0" />
<text x="302.90" y="244.76" font-size="6.2" text-anchor="end" textLength="6.89" lengthAdjust="spacingAndGlyphs" fill="#1a1a1a" stroke="#1a1a1a" stroke-width="0.22">1,5</text>
<line x1="304.50" y1="215.50" x2="306.50" y2="215.50" stroke="#858585" stroke-width="1.0" />
<text x="302.90" y="217.28" font-size="6.2" text-anchor="end" textLength="6.89" lengthAdjust="spacingAndGlyphs" fill="#1a1a1a" stroke="#1a1a1a" stroke-width="0.22">2,0</text>
<line x1="304.50" y1="188.50" x2="306.50" y2="188.50" stroke="#858585" stroke-width="1.0" />
<text x="302.90" y="189.80" font-size="6.2" text-anchor="end" textLength="6.89" lengthAdjust="spacingAndGlyphs" fill="#1a1a1a" stroke="#1a1a1a" stroke-width="0.22">2,5</text>
<line x1="497.50" y1="325.50" x2="499.50" y2="325.50" stroke="#858585" stroke-width="1.0" />
<text x="501.50" y="327.20" font-size="6.2" text-anchor="start" textLength="6.89" lengthAdjust="spacingAndGlyphs" fill="#1a1a1a" stroke="#1a1a1a" stroke-width="0.22">0,0</text>
<line x1="497.50" y1="297.50" x2="499.50" y2="297.50" stroke="#858585" stroke-width="1.0" />
<text x="501.50" y="299.72" font-size="6.2" text-anchor="start" textLength="6.89" lengthAdjust="spacingAndGlyphs" fill="#1a1a1a" stroke="#1a1a1a" stroke-width="0.22">1,0</text>
<line x1="497.50" y1="270.50" x2="499.50" y2="270.50" stroke="#858585" stroke-width="1.0" />
<text x="501.50" y="272.24" font-size="6.2" text-anchor="start" textLength="6.89" lengthAdjust="spacingAndGlyphs" fill="#1a1a1a" stroke="#1a1a1a" stroke-width="0.22">2,0</text>
<line x1="497.50" y1="242.50" x2="499.50" y2="242.50" stroke="#858585" stroke-width="1.0" />
<text x="501.50" y="244.76" font-size="6.2" text-anchor="start" textLength="6.89" lengthAdjust="spacingAndGlyphs" fill="#1a1a1a" stroke="#1a1a1a" stroke-width="0.22">3,0</text>
<line x1="497.50" y1="215.50" x2="499.50" y2="215.50" stroke="#858585" stroke-width="1.0" />
<text x="501.50" y="217.28" font-size="6.2" text-anchor="start" textLength="6.89" lengthAdjust="spacingAndGlyphs" fill="#1a1a1a" stroke="#1a1a1a" stroke-width="0.22">4,0</text>
<line x1="497.50" y1="188.50" x2="499.50" y2="188.50" stroke="#858585" stroke-width="1.0" />
<text x="501.50" y="189.80" font-size="6.2" text-anchor="start" textLength="6.89" lengthAdjust="spacingAndGlyphs" fill="#1a1a1a" stroke="#1a1a1a" stroke-width="0.22">5,0</text>
<polyline points="306.80,323.30 317.43,319.10 338.69,310.60 349.32,311.00 359.95,308.10 370.58,302.00 381.21,299.00 391.84,293.80 402.47,296.70 413.10,291.00 434.36,283.90 444.99,280.90 455.62,279.90 466.25,279.10 476.88,274.70 487.51,274.70" fill="none" stroke="#8a8a8a" stroke-width="0.75"/>
<line x1="338.69" y1="307.10" x2="338.69" y2="314.80" stroke="#6a6a6a" stroke-width="0.8" />
<line x1="337.09" y1="307.10" x2="340.29" y2="307.10" stroke="#6a6a6a" stroke-width="0.8" />
<line x1="337.09" y1="314.80" x2="340.29" y2="314.80" stroke="#6a6a6a" stroke-width="0.8" />
<line x1="370.58" y1="300.00" x2="370.58" y2="304.50" stroke="#6a6a6a" stroke-width="0.8" />
<line x1="368.98" y1="300.00" x2="372.18" y2="300.00" stroke="#6a6a6a" stroke-width="0.8" />
<line x1="368.98" y1="304.50" x2="372.18" y2="304.50" stroke="#6a6a6a" stroke-width="0.8" />
<line x1="381.21" y1="297.00" x2="381.21" y2="301.00" stroke="#6a6a6a" stroke-width="0.8" />
<line x1="379.61" y1="297.00" x2="382.81" y2="297.00" stroke="#6a6a6a" stroke-width="0.8" />
<line x1="379.61" y1="301.00" x2="382.81" y2="301.00" stroke="#6a6a6a" stroke-width="0.8" />
<line x1="391.84" y1="292.00" x2="391.84" y2="295.50" stroke="#6a6a6a" stroke-width="0.8" />
<line x1="390.24" y1="292.00" x2="393.44" y2="292.00" stroke="#6a6a6a" stroke-width="0.8" />
<line x1="390.24" y1="295.50" x2="393.44" y2="295.50" stroke="#6a6a6a" stroke-width="0.8" />
<line x1="444.99" y1="278.60" x2="444.99" y2="283.30" stroke="#6a6a6a" stroke-width="0.8" />
<line x1="443.39" y1="278.60" x2="446.59" y2="278.60" stroke="#6a6a6a" stroke-width="0.8" />
<line x1="443.39" y1="283.30" x2="446.59" y2="283.30" stroke="#6a6a6a" stroke-width="0.8" />
<circle cx="306.80" cy="323.30" r="1.3" fill="#fff" stroke="#8a8a8a" stroke-width="0.8"/>
<circle cx="317.43" cy="319.10" r="1.3" fill="#fff" stroke="#8a8a8a" stroke-width="0.8"/>
<circle cx="338.69" cy="310.60" r="1.3" fill="#fff" stroke="#8a8a8a" stroke-width="0.8"/>
<circle cx="349.32" cy="311.00" r="1.3" fill="#fff" stroke="#8a8a8a" stroke-width="0.8"/>
<circle cx="359.95" cy="308.10" r="1.3" fill="#fff" stroke="#8a8a8a" stroke-width="0.8"/>
<circle cx="370.58" cy="302.00" r="1.3" fill="#fff" stroke="#8a8a8a" stroke-width="0.8"/>
<circle cx="381.21" cy="299.00" r="1.3" fill="#fff" stroke="#8a8a8a" stroke-width="0.8"/>
<circle cx="391.84" cy="293.80" r="1.3" fill="#fff" stroke="#8a8a8a" stroke-width="0.8"/>
<circle cx="402.47" cy="296.70" r="1.3" fill="#fff" stroke="#8a8a8a" stroke-width="0.8"/>
<circle cx="413.10" cy="291.00" r="1.3" fill="#fff" stroke="#8a8a8a" stroke-width="0.8"/>
<circle cx="434.36" cy="283.90" r="1.3" fill="#fff" stroke="#8a8a8a" stroke-width="0.8"/>
<circle cx="444.99" cy="280.90" r="1.3" fill="#fff" stroke="#8a8a8a" stroke-width="0.8"/>
<circle cx="455.62" cy="279.90" r="1.3" fill="#fff" stroke="#8a8a8a" stroke-width="0.8"/>
<circle cx="466.25" cy="279.10" r="1.3" fill="#fff" stroke="#8a8a8a" stroke-width="0.8"/>
<circle cx="476.88" cy="274.70" r="1.3" fill="#fff" stroke="#8a8a8a" stroke-width="0.8"/>
<circle cx="487.51" cy="274.70" r="1.3" fill="#fff" stroke="#8a8a8a" stroke-width="0.8"/>
<polyline points="306.80,324.30 317.43,322.80 338.69,305.20 349.32,298.00 359.95,282.40 370.58,293.40 381.21,283.90 391.84,261.40 402.47,243.00 413.10,244.90 434.36,243.30 444.99,212.50 455.62,211.90 466.25,211.90 476.88,202.30 487.51,203.20" fill="none" stroke="#2e2e2e" stroke-width="0.75"/>
<line x1="338.69" y1="296.10" x2="338.69" y2="313.80" stroke="#6a6a6a" stroke-width="0.8" />
<line x1="337.09" y1="296.10" x2="340.29" y2="296.10" stroke="#6a6a6a" stroke-width="0.8" />
<line x1="337.09" y1="313.80" x2="340.29" y2="313.80" stroke="#6a6a6a" stroke-width="0.8" />
<line x1="370.58" y1="282.80" x2="370.58" y2="304.00" stroke="#6a6a6a" stroke-width="0.8" />
<line x1="368.98" y1="282.80" x2="372.18" y2="282.80" stroke="#6a6a6a" stroke-width="0.8" />
<line x1="368.98" y1="304.00" x2="372.18" y2="304.00" stroke="#6a6a6a" stroke-width="0.8" />
<line x1="381.21" y1="267.70" x2="381.21" y2="300.00" stroke="#6a6a6a" stroke-width="0.8" />
<line x1="379.61" y1="267.70" x2="382.81" y2="267.70" stroke="#6a6a6a" stroke-width="0.8" />
<line x1="379.61" y1="300.00" x2="382.81" y2="300.00" stroke="#6a6a6a" stroke-width="0.8" />
<line x1="391.84" y1="235.70" x2="391.84" y2="288.50" stroke="#6a6a6a" stroke-width="0.8" />
<line x1="390.24" y1="235.70" x2="393.44" y2="235.70" stroke="#6a6a6a" stroke-width="0.8" />
<line x1="390.24" y1="288.50" x2="393.44" y2="288.50" stroke="#6a6a6a" stroke-width="0.8" />
<line x1="402.47" y1="231.00" x2="402.47" y2="255.30" stroke="#6a6a6a" stroke-width="0.8" />
<line x1="400.87" y1="231.00" x2="404.07" y2="231.00" stroke="#6a6a6a" stroke-width="0.8" />
<line x1="400.87" y1="255.30" x2="404.07" y2="255.30" stroke="#6a6a6a" stroke-width="0.8" />
<line x1="413.10" y1="218.20" x2="413.10" y2="271.90" stroke="#6a6a6a" stroke-width="0.8" />
<line x1="411.50" y1="218.20" x2="414.70" y2="218.20" stroke="#6a6a6a" stroke-width="0.8" />
<line x1="411.50" y1="271.90" x2="414.70" y2="271.90" stroke="#6a6a6a" stroke-width="0.8" />
<line x1="444.99" y1="208.70" x2="444.99" y2="216.30" stroke="#6a6a6a" stroke-width="0.8" />
<line x1="443.39" y1="208.70" x2="446.59" y2="208.70" stroke="#6a6a6a" stroke-width="0.8" />
<line x1="443.39" y1="216.30" x2="446.59" y2="216.30" stroke="#6a6a6a" stroke-width="0.8" />
<line x1="455.62" y1="202.40" x2="455.62" y2="221.40" stroke="#6a6a6a" stroke-width="0.8" />
<line x1="454.02" y1="202.40" x2="457.22" y2="202.40" stroke="#6a6a6a" stroke-width="0.8" />
<line x1="454.02" y1="221.40" x2="457.22" y2="221.40" stroke="#6a6a6a" stroke-width="0.8" />
<line x1="466.25" y1="197.20" x2="466.25" y2="227.10" stroke="#6a6a6a" stroke-width="0.8" />
<line x1="464.65" y1="197.20" x2="467.85" y2="197.20" stroke="#6a6a6a" stroke-width="0.8" />
<line x1="464.65" y1="227.10" x2="467.85" y2="227.10" stroke="#6a6a6a" stroke-width="0.8" />
<line x1="476.88" y1="198.50" x2="476.88" y2="205.70" stroke="#6a6a6a" stroke-width="0.8" />
<line x1="475.28" y1="198.50" x2="478.48" y2="198.50" stroke="#6a6a6a" stroke-width="0.8" />
<line x1="475.28" y1="205.70" x2="478.48" y2="205.70" stroke="#6a6a6a" stroke-width="0.8" />
<line x1="487.51" y1="193.90" x2="487.51" y2="213.30" stroke="#6a6a6a" stroke-width="0.8" />
<line x1="485.91" y1="193.90" x2="489.11" y2="193.90" stroke="#6a6a6a" stroke-width="0.8" />
<line x1="485.91" y1="213.30" x2="489.11" y2="213.30" stroke="#6a6a6a" stroke-width="0.8" />
<circle cx="306.80" cy="324.30" r="1.8" fill="#1a1a1a"/>
<circle cx="317.43" cy="322.80" r="1.8" fill="#1a1a1a"/>
<circle cx="338.69" cy="305.20" r="1.8" fill="#1a1a1a"/>
<circle cx="349.32" cy="298.00" r="1.8" fill="#1a1a1a"/>
<circle cx="359.95" cy="282.40" r="1.8" fill="#1a1a1a"/>
<circle cx="370.58" cy="293.40" r="1.8" fill="#1a1a1a"/>
<circle cx="381.21" cy="283.90" r="1.8" fill="#1a1a1a"/>
<circle cx="391.84" cy="261.40" r="1.8" fill="#1a1a1a"/>
<circle cx="402.47" cy="243.00" r="1.8" fill="#1a1a1a"/>
<circle cx="413.10" cy="244.90" r="1.8" fill="#1a1a1a"/>
<circle cx="434.36" cy="243.30" r="1.8" fill="#1a1a1a"/>
<circle cx="444.99" cy="212.50" r="1.8" fill="#1a1a1a"/>
<circle cx="455.62" cy="211.90" r="1.8" fill="#1a1a1a"/>
<circle cx="466.25" cy="211.90" r="1.8" fill="#1a1a1a"/>
<circle cx="476.88" cy="202.30" r="1.8" fill="#1a1a1a"/>
<circle cx="487.51" cy="203.20" r="1.8" fill="#1a1a1a"/>
<text x="320.0" y="188.7" font-size="7.35" textLength="60.0" lengthAdjust="spacingAndGlyphs" fill="#1a1a1a" stroke="#1a1a1a" stroke-width="0.2"><tspan font-style="italic">Tetraselmis</tspan> sp. Z3</text>
<line x1="320.90" y1="198.50" x2="332.50" y2="198.50" stroke="#a0a0a0" stroke-width="1.2" />
<circle cx="326.70" cy="198.50" r="1.4" fill="#fff" stroke="#8a8a8a" stroke-width="0.8"/>
<line x1="320.90" y1="207.60" x2="332.50" y2="207.60" stroke="#8a8a8a" stroke-width="0.7" />
<circle cx="326.70" cy="207.60" r="1.7" fill="#1a1a1a"/>
<text transform="translate(335.90,199.70) scale(0.8307692307692308,1)" font-size="6.5" fill="#1a1a1a" stroke="#1a1a1a" stroke-width="0.2">time vs OD <tspan font-size="5.6" dy="2.0">720</tspan></text>
<text transform="translate(335.90,210.70) scale(0.8307692307692308,1)" font-size="6.5" fill="#1a1a1a" stroke="#1a1a1a" stroke-width="0.2">time vs cells mL<tspan font-size="5.0" dy="-2.8">&#8722;1</tspan><tspan dy="2.8"> &#215;10</tspan><tspan font-size="5.2" dy="-2.8">6</tspan></text>
<text x="402.3" y="346.7" font-size="6.5" text-anchor="middle" textLength="21.3" lengthAdjust="spacingAndGlyphs" fill="#1a1a1a" stroke="#1a1a1a" stroke-width="0.22">t (days)</text>
<text x="398.2" y="360.8" font-size="10" text-anchor="middle" font-family="'Liberation Serif', 'Times New Roman', serif" font-weight="bold" fill="#000">(d)</text>
<text transform="translate(281.20,256.60) rotate(-90)" font-size="7.0" text-anchor="middle" fill="#1a1a1a" stroke="#1a1a1a" stroke-width="0.15" textLength="18.6" lengthAdjust="spacingAndGlyphs">OD <tspan font-size="4.4" dy="1.3">720</tspan></text>
<text transform="translate(521.80,256.60) rotate(-90)" font-size="7.0" text-anchor="middle" fill="#1a1a1a" stroke="#1a1a1a" stroke-width="0.15" textLength="43.6" lengthAdjust="spacingAndGlyphs">cells mL<tspan font-size="4.4" dy="-2.4">&#8722;1</tspan><tspan dy="2.4"> &#215;10</tspan><tspan font-size="4.4" dy="-2.4">6</tspan></text>
<line x1="47.50" y1="374.60" x2="47.50" y2="510.00" stroke="#9c9c9c" stroke-width="1.0" />
<line x1="47.50" y1="509.50" x2="232.50" y2="509.50" stroke="#858585" stroke-width="1.0" />
<line x1="232.50" y1="374.60" x2="232.50" y2="510.00" stroke="#929292" stroke-width="1.0" />
<line x1="47.50" y1="509.50" x2="47.50" y2="511.50" stroke="#858585" stroke-width="1.0" />
<text x="47.10" y="518.80" font-size="6.2" text-anchor="middle" textLength="2.76" lengthAdjust="spacingAndGlyphs" fill="#1a1a1a" stroke="#1a1a1a" stroke-width="0.22">0</text>
<line x1="67.50" y1="509.50" x2="67.50" y2="511.50" stroke="#858585" stroke-width="1.0" />
<text x="67.70" y="518.80" font-size="6.2" text-anchor="middle" textLength="2.76" lengthAdjust="spacingAndGlyphs" fill="#1a1a1a" stroke="#1a1a1a" stroke-width="0.22">2</text>
<line x1="88.50" y1="509.50" x2="88.50" y2="511.50" stroke="#858585" stroke-width="1.0" />
<text x="88.30" y="518.80" font-size="6.2" text-anchor="middle" textLength="2.76" lengthAdjust="spacingAndGlyphs" fill="#1a1a1a" stroke="#1a1a1a" stroke-width="0.22">4</text>
<line x1="108.50" y1="509.50" x2="108.50" y2="511.50" stroke="#858585" stroke-width="1.0" />
<text x="108.90" y="518.80" font-size="6.2" text-anchor="middle" textLength="2.76" lengthAdjust="spacingAndGlyphs" fill="#1a1a1a" stroke="#1a1a1a" stroke-width="0.22">6</text>
<line x1="129.50" y1="509.50" x2="129.50" y2="511.50" stroke="#858585" stroke-width="1.0" />
<text x="129.50" y="518.80" font-size="6.2" text-anchor="middle" textLength="2.76" lengthAdjust="spacingAndGlyphs" fill="#1a1a1a" stroke="#1a1a1a" stroke-width="0.22">8</text>
<line x1="150.50" y1="509.50" x2="150.50" y2="511.50" stroke="#858585" stroke-width="1.0" />
<text x="150.10" y="518.80" font-size="6.2" text-anchor="middle" textLength="5.52" lengthAdjust="spacingAndGlyphs" fill="#1a1a1a" stroke="#1a1a1a" stroke-width="0.22">10</text>
<line x1="170.50" y1="509.50" x2="170.50" y2="511.50" stroke="#858585" stroke-width="1.0" />
<text x="170.70" y="518.80" font-size="6.2" text-anchor="middle" textLength="5.52" lengthAdjust="spacingAndGlyphs" fill="#1a1a1a" stroke="#1a1a1a" stroke-width="0.22">12</text>
<line x1="191.50" y1="509.50" x2="191.50" y2="511.50" stroke="#858585" stroke-width="1.0" />
<text x="191.30" y="518.80" font-size="6.2" text-anchor="middle" textLength="5.52" lengthAdjust="spacingAndGlyphs" fill="#1a1a1a" stroke="#1a1a1a" stroke-width="0.22">14</text>
<line x1="211.50" y1="509.50" x2="211.50" y2="511.50" stroke="#858585" stroke-width="1.0" />
<text x="211.90" y="518.80" font-size="6.2" text-anchor="middle" textLength="5.52" lengthAdjust="spacingAndGlyphs" fill="#1a1a1a" stroke="#1a1a1a" stroke-width="0.22">16</text>
<line x1="232.50" y1="509.50" x2="232.50" y2="511.50" stroke="#858585" stroke-width="1.0" />
<text x="232.50" y="518.80" font-size="6.2" text-anchor="middle" textLength="5.52" lengthAdjust="spacingAndGlyphs" fill="#1a1a1a" stroke="#1a1a1a" stroke-width="0.22">18</text>
<line x1="45.50" y1="509.50" x2="47.50" y2="509.50" stroke="#858585" stroke-width="1.0" />
<text x="43.20" y="511.10" font-size="6.2" text-anchor="end" textLength="6.89" lengthAdjust="spacingAndGlyphs" fill="#1a1a1a" stroke="#1a1a1a" stroke-width="0.22">0,0</text>
<line x1="45.50" y1="482.50" x2="47.50" y2="482.50" stroke="#858585" stroke-width="1.0" />
<text x="43.20" y="484.26" font-size="6.2" text-anchor="end" textLength="6.89" lengthAdjust="spacingAndGlyphs" fill="#1a1a1a" stroke="#1a1a1a" stroke-width="0.22">0,5</text>
<line x1="45.50" y1="455.50" x2="47.50" y2="455.50" stroke="#858585" stroke-width="1.0" />
<text x="43.20" y="457.42" font-size="6.2" text-anchor="end" textLength="6.89" lengthAdjust="spacingAndGlyphs" fill="#1a1a1a" stroke="#1a1a1a" stroke-width="0.22">1,0</text>
<line x1="45.50" y1="428.50" x2="47.50" y2="428.50" stroke="#858585" stroke-width="1.0" />
<text x="43.20" y="430.58" font-size="6.2" text-anchor="end" textLength="6.89" lengthAdjust="spacingAndGlyphs" fill="#1a1a1a" stroke="#1a1a1a" stroke-width="0.22">1,5</text>
<line x1="45.50" y1="401.50" x2="47.50" y2="401.50" stroke="#858585" stroke-width="1.0" />
<text x="43.20" y="403.74" font-size="6.2" text-anchor="end" textLength="6.89" lengthAdjust="spacingAndGlyphs" fill="#1a1a1a" stroke="#1a1a1a" stroke-width="0.22">2,0</text>
<line x1="45.50" y1="375.50" x2="47.50" y2="375.50" stroke="#858585" stroke-width="1.0" />
<text x="43.20" y="376.90" font-size="6.2" text-anchor="end" textLength="6.89" lengthAdjust="spacingAndGlyphs" fill="#1a1a1a" stroke="#1a1a1a" stroke-width="0.22">2,5</text>
<line x1="232.50" y1="509.50" x2="234.50" y2="509.50" stroke="#858585" stroke-width="1.0" />
<text x="236.90" y="511.10" font-size="6.2" text-anchor="start" textLength="6.89" lengthAdjust="spacingAndGlyphs" fill="#1a1a1a" stroke="#1a1a1a" stroke-width="0.22">0,0</text>
<line x1="232.50" y1="482.50" x2="234.50" y2="482.50" stroke="#858585" stroke-width="1.0" />
<text x="236.90" y="484.26" font-size="6.2" text-anchor="start" textLength="6.89" lengthAdjust="spacingAndGlyphs" fill="#1a1a1a" stroke="#1a1a1a" stroke-width="0.22">1,0</text>
<line x1="232.50" y1="455.50" x2="234.50" y2="455.50" stroke="#858585" stroke-width="1.0" />
<text x="236.90" y="457.42" font-size="6.2" text-anchor="start" textLength="6.89" lengthAdjust="spacingAndGlyphs" fill="#1a1a1a" stroke="#1a1a1a" stroke-width="0.22">2,0</text>
<line x1="232.50" y1="428.50" x2="234.50" y2="428.50" stroke="#858585" stroke-width="1.0" />
<text x="236.90" y="430.58" font-size="6.2" text-anchor="start" textLength="6.89" lengthAdjust="spacingAndGlyphs" fill="#1a1a1a" stroke="#1a1a1a" stroke-width="0.22">3,0</text>
<line x1="232.50" y1="401.50" x2="234.50" y2="401.50" stroke="#858585" stroke-width="1.0" />
<text x="236.90" y="403.74" font-size="6.2" text-anchor="start" textLength="6.89" lengthAdjust="spacingAndGlyphs" fill="#1a1a1a" stroke="#1a1a1a" stroke-width="0.22">4,0</text>
<line x1="232.50" y1="375.50" x2="234.50" y2="375.50" stroke="#858585" stroke-width="1.0" />
<text x="236.90" y="376.90" font-size="6.2" text-anchor="start" textLength="6.89" lengthAdjust="spacingAndGlyphs" fill="#1a1a1a" stroke="#1a1a1a" stroke-width="0.22">5,0</text>
<polyline points="47.10,508.60 57.40,505.70 78.00,506.30 88.30,505.10 98.60,500.60 108.90,496.60 119.20,494.30 129.50,491.40 139.80,489.00 150.10,491.00 170.70,488.60 181.00,485.70 191.30,482.30 201.60,476.20 211.90,476.10 222.20,479.90" fill="none" stroke="#6a6a6a" stroke-width="0.75"/>
<line x1="98.60" y1="497.00" x2="98.60" y2="504.00" stroke="#6a6a6a" stroke-width="0.8" />
<line x1="97.00" y1="497.00" x2="100.20" y2="497.00" stroke="#6a6a6a" stroke-width="0.8" />
<line x1="97.00" y1="504.00" x2="100.20" y2="504.00" stroke="#6a6a6a" stroke-width="0.8" />
<line x1="108.90" y1="492.00" x2="108.90" y2="501.00" stroke="#6a6a6a" stroke-width="0.8" />
<line x1="107.30" y1="492.00" x2="110.50" y2="492.00" stroke="#6a6a6a" stroke-width="0.8" />
<line x1="107.30" y1="501.00" x2="110.50" y2="501.00" stroke="#6a6a6a" stroke-width="0.8" />
<line x1="119.20" y1="488.00" x2="119.20" y2="500.00" stroke="#6a6a6a" stroke-width="0.8" />
<line x1="117.60" y1="488.00" x2="120.80" y2="488.00" stroke="#6a6a6a" stroke-width="0.8" />
<line x1="117.60" y1="500.00" x2="120.80" y2="500.00" stroke="#6a6a6a" stroke-width="0.8" />
<line x1="129.50" y1="488.00" x2="129.50" y2="494.70" stroke="#6a6a6a" stroke-width="0.8" />
<line x1="127.90" y1="488.00" x2="131.10" y2="488.00" stroke="#6a6a6a" stroke-width="0.8" />
<line x1="127.90" y1="494.70" x2="131.10" y2="494.70" stroke="#6a6a6a" stroke-width="0.8" />
<line x1="139.80" y1="487.20" x2="139.80" y2="490.90" stroke="#6a6a6a" stroke-width="0.8" />
<line x1="138.20" y1="487.20" x2="141.40" y2="487.20" stroke="#6a6a6a" stroke-width="0.8" />
<line x1="138.20" y1="490.90" x2="141.40" y2="490.90" stroke="#6a6a6a" stroke-width="0.8" />
<line x1="150.10" y1="487.00" x2="150.10" y2="495.80" stroke="#6a6a6a" stroke-width="0.8" />
<line x1="148.50" y1="487.00" x2="151.70" y2="487.00" stroke="#6a6a6a" stroke-width="0.8" />
<line x1="148.50" y1="495.80" x2="151.70" y2="495.80" stroke="#6a6a6a" stroke-width="0.8" />
<line x1="170.70" y1="485.00" x2="170.70" y2="492.00" stroke="#6a6a6a" stroke-width="0.8" />
<line x1="169.10" y1="485.00" x2="172.30" y2="485.00" stroke="#6a6a6a" stroke-width="0.8" />
<line x1="169.10" y1="492.00" x2="172.30" y2="492.00" stroke="#6a6a6a" stroke-width="0.8" />
<line x1="181.00" y1="479.60" x2="181.00" y2="492.00" stroke="#6a6a6a" stroke-width="0.8" />
<line x1="179.40" y1="479.60" x2="182.60" y2="479.60" stroke="#6a6a6a" stroke-width="0.8" />
<line x1="179.40" y1="492.00" x2="182.60" y2="492.00" stroke="#6a6a6a" stroke-width="0.8" />
<line x1="191.30" y1="479.00" x2="191.30" y2="485.30" stroke="#6a6a6a" stroke-width="0.8" />
<line x1="189.70" y1="479.00" x2="192.90" y2="479.00" stroke="#6a6a6a" stroke-width="0.8" />
<line x1="189.70" y1="485.30" x2="192.90" y2="485.30" stroke="#6a6a6a" stroke-width="0.8" />
<line x1="211.90" y1="474.50" x2="211.90" y2="477.50" stroke="#6a6a6a" stroke-width="0.8" />
<line x1="210.30" y1="474.50" x2="213.50" y2="474.50" stroke="#6a6a6a" stroke-width="0.8" />
<line x1="210.30" y1="477.50" x2="213.50" y2="477.50" stroke="#6a6a6a" stroke-width="0.8" />
<line x1="222.20" y1="474.80" x2="222.20" y2="485.20" stroke="#6a6a6a" stroke-width="0.8" />
<line x1="220.60" y1="474.80" x2="223.80" y2="474.80" stroke="#6a6a6a" stroke-width="0.8" />
<line x1="220.60" y1="485.20" x2="223.80" y2="485.20" stroke="#6a6a6a" stroke-width="0.8" />
<circle cx="47.10" cy="508.60" r="1.45" fill="#fff" stroke="#6a6a6a" stroke-width="0.8"/>
<circle cx="57.40" cy="505.70" r="1.45" fill="#fff" stroke="#6a6a6a" stroke-width="0.8"/>
<circle cx="78.00" cy="506.30" r="1.45" fill="#fff" stroke="#6a6a6a" stroke-width="0.8"/>
<circle cx="88.30" cy="505.10" r="1.45" fill="#fff" stroke="#6a6a6a" stroke-width="0.8"/>
<circle cx="98.60" cy="500.60" r="1.45" fill="#fff" stroke="#6a6a6a" stroke-width="0.8"/>
<circle cx="108.90" cy="496.60" r="1.45" fill="#fff" stroke="#6a6a6a" stroke-width="0.8"/>
<circle cx="119.20" cy="494.30" r="1.45" fill="#fff" stroke="#6a6a6a" stroke-width="0.8"/>
<circle cx="129.50" cy="491.40" r="1.45" fill="#fff" stroke="#6a6a6a" stroke-width="0.8"/>
<circle cx="139.80" cy="489.00" r="1.45" fill="#fff" stroke="#6a6a6a" stroke-width="0.8"/>
<circle cx="150.10" cy="491.00" r="1.45" fill="#fff" stroke="#6a6a6a" stroke-width="0.8"/>
<circle cx="170.70" cy="488.60" r="1.45" fill="#fff" stroke="#6a6a6a" stroke-width="0.8"/>
<circle cx="181.00" cy="485.70" r="1.45" fill="#fff" stroke="#6a6a6a" stroke-width="0.8"/>
<circle cx="191.30" cy="482.30" r="1.45" fill="#fff" stroke="#6a6a6a" stroke-width="0.8"/>
<circle cx="201.60" cy="476.20" r="1.45" fill="#fff" stroke="#6a6a6a" stroke-width="0.8"/>
<circle cx="211.90" cy="476.10" r="1.45" fill="#fff" stroke="#6a6a6a" stroke-width="0.8"/>
<circle cx="222.20" cy="479.90" r="1.45" fill="#fff" stroke="#6a6a6a" stroke-width="0.8"/>
<polyline points="47.10,509.00 57.40,508.60 78.00,506.70 88.30,502.30 98.60,501.90 108.90,496.20 119.20,494.30 129.50,486.10 139.80,471.40 150.10,480.40 170.70,488.60 181.00,471.40 191.30,459.00 201.60,436.60 211.90,424.80 222.20,426.30" fill="none" stroke="#2e2e2e" stroke-width="0.75"/>
<line x1="98.60" y1="496.80" x2="98.60" y2="504.40" stroke="#6a6a6a" stroke-width="0.8" />
<line x1="97.00" y1="496.80" x2="100.20" y2="496.80" stroke="#6a6a6a" stroke-width="0.8" />
<line x1="97.00" y1="504.40" x2="100.20" y2="504.40" stroke="#6a6a6a" stroke-width="0.8" />
<line x1="108.90" y1="489.90" x2="108.90" y2="501.90" stroke="#6a6a6a" stroke-width="0.8" />
<line x1="107.30" y1="489.90" x2="110.50" y2="489.90" stroke="#6a6a6a" stroke-width="0.8" />
<line x1="107.30" y1="501.90" x2="110.50" y2="501.90" stroke="#6a6a6a" stroke-width="0.8" />
<line x1="119.20" y1="486.30" x2="119.20" y2="502.90" stroke="#6a6a6a" stroke-width="0.8" />
<line x1="117.60" y1="486.30" x2="120.80" y2="486.30" stroke="#6a6a6a" stroke-width="0.8" />
<line x1="117.60" y1="502.90" x2="120.80" y2="502.90" stroke="#6a6a6a" stroke-width="0.8" />
<line x1="129.50" y1="483.40" x2="129.50" y2="488.60" stroke="#6a6a6a" stroke-width="0.8" />
<line x1="127.90" y1="483.40" x2="131.10" y2="483.40" stroke="#6a6a6a" stroke-width="0.8" />
<line x1="127.90" y1="488.60" x2="131.10" y2="488.60" stroke="#6a6a6a" stroke-width="0.8" />
<line x1="139.80" y1="464.40" x2="139.80" y2="478.70" stroke="#6a6a6a" stroke-width="0.8" />
<line x1="138.20" y1="464.40" x2="141.40" y2="464.40" stroke="#6a6a6a" stroke-width="0.8" />
<line x1="138.20" y1="478.70" x2="141.40" y2="478.70" stroke="#6a6a6a" stroke-width="0.8" />
<line x1="150.10" y1="463.40" x2="150.10" y2="497.10" stroke="#6a6a6a" stroke-width="0.8" />
<line x1="148.50" y1="463.40" x2="151.70" y2="463.40" stroke="#6a6a6a" stroke-width="0.8" />
<line x1="148.50" y1="497.10" x2="151.70" y2="497.10" stroke="#6a6a6a" stroke-width="0.8" />
<line x1="170.70" y1="484.80" x2="170.70" y2="493.30" stroke="#6a6a6a" stroke-width="0.8" />
<line x1="169.10" y1="484.80" x2="172.30" y2="484.80" stroke="#6a6a6a" stroke-width="0.8" />
<line x1="169.10" y1="493.30" x2="172.30" y2="493.30" stroke="#6a6a6a" stroke-width="0.8" />
<line x1="181.00" y1="461.00" x2="181.00" y2="481.00" stroke="#6a6a6a" stroke-width="0.8" />
<line x1="179.40" y1="461.00" x2="182.60" y2="461.00" stroke="#6a6a6a" stroke-width="0.8" />
<line x1="179.40" y1="481.00" x2="182.60" y2="481.00" stroke="#6a6a6a" stroke-width="0.8" />
<line x1="191.30" y1="451.00" x2="191.30" y2="466.70" stroke="#6a6a6a" stroke-width="0.8" />
<line x1="189.70" y1="451.00" x2="192.90" y2="451.00" stroke="#6a6a6a" stroke-width="0.8" />
<line x1="189.70" y1="466.70" x2="192.90" y2="466.70" stroke="#6a6a6a" stroke-width="0.8" />
<line x1="201.60" y1="433.90" x2="201.60" y2="439.00" stroke="#6a6a6a" stroke-width="0.8" />
<line x1="200.00" y1="433.90" x2="203.20" y2="433.90" stroke="#6a6a6a" stroke-width="0.8" />
<line x1="200.00" y1="439.00" x2="203.20" y2="439.00" stroke="#6a6a6a" stroke-width="0.8" />
<line x1="211.90" y1="421.50" x2="211.90" y2="428.20" stroke="#6a6a6a" stroke-width="0.8" />
<line x1="210.30" y1="421.50" x2="213.50" y2="421.50" stroke="#6a6a6a" stroke-width="0.8" />
<line x1="210.30" y1="428.20" x2="213.50" y2="428.20" stroke="#6a6a6a" stroke-width="0.8" />
<line x1="222.20" y1="418.10" x2="222.20" y2="434.90" stroke="#6a6a6a" stroke-width="0.8" />
<line x1="220.60" y1="418.10" x2="223.80" y2="418.10" stroke="#6a6a6a" stroke-width="0.8" />
<line x1="220.60" y1="434.90" x2="223.80" y2="434.90" stroke="#6a6a6a" stroke-width="0.8" />
<circle cx="47.10" cy="509.00" r="1.8" fill="#1a1a1a"/>
<circle cx="57.40" cy="508.60" r="1.8" fill="#1a1a1a"/>
<circle cx="78.00" cy="506.70" r="1.8" fill="#1a1a1a"/>
<circle cx="88.30" cy="502.30" r="1.8" fill="#1a1a1a"/>
<circle cx="98.60" cy="501.90" r="1.8" fill="#1a1a1a"/>
<circle cx="108.90" cy="496.20" r="1.8" fill="#1a1a1a"/>
<circle cx="119.20" cy="494.30" r="1.8" fill="#1a1a1a"/>
<circle cx="129.50" cy="486.10" r="1.8" fill="#1a1a1a"/>
<circle cx="139.80" cy="471.40" r="1.8" fill="#1a1a1a"/>
<circle cx="150.10" cy="480.40" r="1.8" fill="#1a1a1a"/>
<circle cx="170.70" cy="488.60" r="1.8" fill="#1a1a1a"/>
<circle cx="181.00" cy="471.40" r="1.8" fill="#1a1a1a"/>
<circle cx="191.30" cy="459.00" r="1.8" fill="#1a1a1a"/>
<circle cx="201.60" cy="436.60" r="1.8" fill="#1a1a1a"/>
<circle cx="211.90" cy="424.80" r="1.8" fill="#1a1a1a"/>
<circle cx="222.20" cy="426.30" r="1.8" fill="#1a1a1a"/>
<text x="56.3" y="379.0" font-size="7.35" textLength="59.4" lengthAdjust="spacingAndGlyphs" fill="#1a1a1a" stroke="#1a1a1a" stroke-width="0.2"><tspan font-style="italic">Tetraselmis</tspan> sp. C6</text>
<line x1="58.80" y1="389.50" x2="69.90" y2="389.50" stroke="#9a9a9a" stroke-width="1.0" />
<circle cx="64.35" cy="389.50" r="1.4" fill="#fff" stroke="#555" stroke-width="0.8"/>
<line x1="58.80" y1="398.10" x2="69.90" y2="398.10" stroke="#1a1a1a" stroke-width="0.7" />
<circle cx="64.35" cy="398.10" r="1.7" fill="#1a1a1a"/>
<text transform="translate(73.00,390.80) scale(0.8584615384615386,1)" font-size="6.5" fill="#1a1a1a" stroke="#1a1a1a" stroke-width="0.2">time vs OD<tspan font-size="5.6" dy="1.7">720</tspan></text>
<text transform="translate(73.00,401.40) scale(0.8584615384615386,1)" font-size="6.5" fill="#1a1a1a" stroke="#1a1a1a" stroke-width="0.2">time vs cells mL<tspan font-size="5.0" dy="-2.8">&#8722;1</tspan><tspan dy="2.8"> &#8226;10</tspan><tspan font-size="5.2" dy="-2.8">6</tspan></text>
<text x="139.9" y="530.5" font-size="6.5" text-anchor="middle" textLength="21.3" lengthAdjust="spacingAndGlyphs" fill="#1a1a1a" stroke="#1a1a1a" stroke-width="0.22">t (days)</text>
<text x="131.6" y="545.0" font-size="10" text-anchor="middle" font-family="'Liberation Serif', 'Times New Roman', serif" font-weight="bold" fill="#000">(e)</text>
<text transform="translate(12.30,442.30) rotate(-90)" font-size="7.0" text-anchor="middle" fill="#1a1a1a" stroke="#1a1a1a" stroke-width="0.15" textLength="16.4" lengthAdjust="spacingAndGlyphs">OD<tspan font-size="4.4" dy="1.3">720</tspan></text>
<text transform="translate(256.30,442.80) rotate(-90)" font-size="7.0" text-anchor="middle" fill="#1a1a1a" stroke="#1a1a1a" stroke-width="0.15" textLength="41.5" lengthAdjust="spacingAndGlyphs">cells mL<tspan font-size="4.4" dy="-2.4">&#8722;1</tspan><tspan dy="2.4"> &#215;10</tspan><tspan font-size="4.4" dy="-2.4">6</tspan></text>
<line x1="307.50" y1="373.80" x2="307.50" y2="511.00" stroke="#9c9c9c" stroke-width="1.0" />
<line x1="307.50" y1="510.50" x2="496.50" y2="510.50" stroke="#858585" stroke-width="1.0" />
<line x1="496.50" y1="373.80" x2="496.50" y2="511.00" stroke="#929292" stroke-width="1.0" />
<line x1="307.50" y1="510.50" x2="307.50" y2="512.50" stroke="#858585" stroke-width="1.0" />
<text x="307.70" y="519.80" font-size="6.2" text-anchor="middle" textLength="2.76" lengthAdjust="spacingAndGlyphs" fill="#1a1a1a" stroke="#1a1a1a" stroke-width="0.22">0</text>
<line x1="334.50" y1="510.50" x2="334.50" y2="512.50" stroke="#858585" stroke-width="1.0" />
<text x="334.60" y="519.80" font-size="6.2" text-anchor="middle" textLength="2.76" lengthAdjust="spacingAndGlyphs" fill="#1a1a1a" stroke="#1a1a1a" stroke-width="0.22">2</text>
<line x1="361.50" y1="510.50" x2="361.50" y2="512.50" stroke="#858585" stroke-width="1.0" />
<text x="361.50" y="519.80" font-size="6.2" text-anchor="middle" textLength="2.76" lengthAdjust="spacingAndGlyphs" fill="#1a1a1a" stroke="#1a1a1a" stroke-width="0.22">4</text>
<line x1="388.50" y1="510.50" x2="388.50" y2="512.50" stroke="#858585" stroke-width="1.0" />
<text x="388.40" y="519.80" font-size="6.2" text-anchor="middle" textLength="2.76" lengthAdjust="spacingAndGlyphs" fill="#1a1a1a" stroke="#1a1a1a" stroke-width="0.22">6</text>
<line x1="415.50" y1="510.50" x2="415.50" y2="512.50" stroke="#858585" stroke-width="1.0" />
<text x="415.30" y="519.80" font-size="6.2" text-anchor="middle" textLength="2.76" lengthAdjust="spacingAndGlyphs" fill="#1a1a1a" stroke="#1a1a1a" stroke-width="0.22">8</text>
<line x1="442.50" y1="510.50" x2="442.50" y2="512.50" stroke="#858585" stroke-width="1.0" />
<text x="442.20" y="519.80" font-size="6.2" text-anchor="middle" textLength="5.52" lengthAdjust="spacingAndGlyphs" fill="#1a1a1a" stroke="#1a1a1a" stroke-width="0.22">10</text>
<line x1="469.50" y1="510.50" x2="469.50" y2="512.50" stroke="#858585" stroke-width="1.0" />
<text x="469.10" y="519.80" font-size="6.2" text-anchor="middle" textLength="5.52" lengthAdjust="spacingAndGlyphs" fill="#1a1a1a" stroke="#1a1a1a" stroke-width="0.22">12</text>
<line x1="496.50" y1="510.50" x2="496.50" y2="512.50" stroke="#858585" stroke-width="1.0" />
<text x="496.00" y="519.80" font-size="6.2" text-anchor="middle" textLength="5.52" lengthAdjust="spacingAndGlyphs" fill="#1a1a1a" stroke="#1a1a1a" stroke-width="0.22">14</text>
<line x1="305.50" y1="510.50" x2="307.50" y2="510.50" stroke="#858585" stroke-width="1.0" />
<text x="303.80" y="512.10" font-size="6.2" text-anchor="end" textLength="6.89" lengthAdjust="spacingAndGlyphs" fill="#1a1a1a" stroke="#1a1a1a" stroke-width="0.22">0,0</text>
<line x1="305.50" y1="483.50" x2="307.50" y2="483.50" stroke="#858585" stroke-width="1.0" />
<text x="303.80" y="484.90" font-size="6.2" text-anchor="end" textLength="6.89" lengthAdjust="spacingAndGlyphs" fill="#1a1a1a" stroke="#1a1a1a" stroke-width="0.22">0,5</text>
<line x1="305.50" y1="455.50" x2="307.50" y2="455.50" stroke="#858585" stroke-width="1.0" />
<text x="303.80" y="457.70" font-size="6.2" text-anchor="end" textLength="6.89" lengthAdjust="spacingAndGlyphs" fill="#1a1a1a" stroke="#1a1a1a" stroke-width="0.22">1,0</text>
<line x1="305.50" y1="428.50" x2="307.50" y2="428.50" stroke="#858585" stroke-width="1.0" />
<text x="303.80" y="430.50" font-size="6.2" text-anchor="end" textLength="6.89" lengthAdjust="spacingAndGlyphs" fill="#1a1a1a" stroke="#1a1a1a" stroke-width="0.22">1,5</text>
<line x1="305.50" y1="401.50" x2="307.50" y2="401.50" stroke="#858585" stroke-width="1.0" />
<text x="303.80" y="403.30" font-size="6.2" text-anchor="end" textLength="6.89" lengthAdjust="spacingAndGlyphs" fill="#1a1a1a" stroke="#1a1a1a" stroke-width="0.22">2,0</text>
<line x1="305.50" y1="374.50" x2="307.50" y2="374.50" stroke="#858585" stroke-width="1.0" />
<text x="303.80" y="376.10" font-size="6.2" text-anchor="end" textLength="6.89" lengthAdjust="spacingAndGlyphs" fill="#1a1a1a" stroke="#1a1a1a" stroke-width="0.22">2,5</text>
<line x1="496.50" y1="510.50" x2="498.50" y2="510.50" stroke="#858585" stroke-width="1.0" />
<text x="500.90" y="512.10" font-size="6.2" text-anchor="start" textLength="6.89" lengthAdjust="spacingAndGlyphs" fill="#1a1a1a" stroke="#1a1a1a" stroke-width="0.22">0,0</text>
<line x1="496.50" y1="483.50" x2="498.50" y2="483.50" stroke="#858585" stroke-width="1.0" />
<text x="500.90" y="484.90" font-size="6.2" text-anchor="start" textLength="6.89" lengthAdjust="spacingAndGlyphs" fill="#1a1a1a" stroke="#1a1a1a" stroke-width="0.22">1,0</text>
<line x1="496.50" y1="455.50" x2="498.50" y2="455.50" stroke="#858585" stroke-width="1.0" />
<text x="500.90" y="457.70" font-size="6.2" text-anchor="start" textLength="6.89" lengthAdjust="spacingAndGlyphs" fill="#1a1a1a" stroke="#1a1a1a" stroke-width="0.22">2,0</text>
<line x1="496.50" y1="428.50" x2="498.50" y2="428.50" stroke="#858585" stroke-width="1.0" />
<text x="500.90" y="430.50" font-size="6.2" text-anchor="start" textLength="6.89" lengthAdjust="spacingAndGlyphs" fill="#1a1a1a" stroke="#1a1a1a" stroke-width="0.22">3,0</text>
<line x1="496.50" y1="401.50" x2="498.50" y2="401.50" stroke="#858585" stroke-width="1.0" />
<text x="500.90" y="403.30" font-size="6.2" text-anchor="start" textLength="6.89" lengthAdjust="spacingAndGlyphs" fill="#1a1a1a" stroke="#1a1a1a" stroke-width="0.22">4,0</text>
<line x1="496.50" y1="374.50" x2="498.50" y2="374.50" stroke="#858585" stroke-width="1.0" />
<text x="500.90" y="376.10" font-size="6.2" text-anchor="start" textLength="6.89" lengthAdjust="spacingAndGlyphs" fill="#1a1a1a" stroke="#1a1a1a" stroke-width="0.22">5,0</text>
<polyline points="307.70,505.30 321.15,495.80 348.05,495.80 374.95,500.50 388.40,493.40 401.85,489.00 415.30,489.60 428.75,483.90 442.20,478.20 482.55,478.00" fill="none" stroke="#4a4a4a" stroke-width="0.75"/>
<line x1="321.15" y1="489.50" x2="321.15" y2="502.00" stroke="#6a6a6a" stroke-width="0.8" />
<line x1="319.55" y1="489.50" x2="322.75" y2="489.50" stroke="#6a6a6a" stroke-width="0.8" />
<line x1="319.55" y1="502.00" x2="322.75" y2="502.00" stroke="#6a6a6a" stroke-width="0.8" />
<line x1="388.40" y1="481.40" x2="388.40" y2="505.00" stroke="#6a6a6a" stroke-width="0.8" />
<line x1="386.80" y1="481.40" x2="390.00" y2="481.40" stroke="#6a6a6a" stroke-width="0.8" />
<line x1="386.80" y1="505.00" x2="390.00" y2="505.00" stroke="#6a6a6a" stroke-width="0.8" />
<line x1="401.85" y1="483.00" x2="401.85" y2="495.00" stroke="#6a6a6a" stroke-width="0.8" />
<line x1="400.25" y1="483.00" x2="403.45" y2="483.00" stroke="#6a6a6a" stroke-width="0.8" />
<line x1="400.25" y1="495.00" x2="403.45" y2="495.00" stroke="#6a6a6a" stroke-width="0.8" />
<line x1="428.75" y1="482.00" x2="428.75" y2="486.00" stroke="#6a6a6a" stroke-width="0.8" />
<line x1="427.15" y1="482.00" x2="430.35" y2="482.00" stroke="#6a6a6a" stroke-width="0.8" />
<line x1="427.15" y1="486.00" x2="430.35" y2="486.00" stroke="#6a6a6a" stroke-width="0.8" />
<line x1="442.20" y1="465.80" x2="442.20" y2="490.00" stroke="#6a6a6a" stroke-width="0.8" />
<line x1="440.60" y1="465.80" x2="443.80" y2="465.80" stroke="#6a6a6a" stroke-width="0.8" />
<line x1="440.60" y1="490.00" x2="443.80" y2="490.00" stroke="#6a6a6a" stroke-width="0.8" />
<line x1="482.55" y1="474.40" x2="482.55" y2="481.40" stroke="#6a6a6a" stroke-width="0.8" />
<line x1="480.95" y1="474.40" x2="484.15" y2="474.40" stroke="#6a6a6a" stroke-width="0.8" />
<line x1="480.95" y1="481.40" x2="484.15" y2="481.40" stroke="#6a6a6a" stroke-width="0.8" />
<circle cx="307.70" cy="505.30" r="1.45" fill="#fff" stroke="#4a4a4a" stroke-width="0.8"/>
<circle cx="321.15" cy="495.80" r="1.45" fill="#fff" stroke="#4a4a4a" stroke-width="0.8"/>
<circle cx="348.05" cy="495.80" r="1.45" fill="#fff" stroke="#4a4a4a" stroke-width="0.8"/>
<circle cx="374.95" cy="500.50" r="1.45" fill="#fff" stroke="#4a4a4a" stroke-width="0.8"/>
<circle cx="388.40" cy="493.40" r="1.45" fill="#fff" stroke="#4a4a4a" stroke-width="0.8"/>
<circle cx="401.85" cy="489.00" r="1.45" fill="#fff" stroke="#4a4a4a" stroke-width="0.8"/>
<circle cx="415.30" cy="489.60" r="1.45" fill="#fff" stroke="#4a4a4a" stroke-width="0.8"/>
<circle cx="428.75" cy="483.90" r="1.45" fill="#fff" stroke="#4a4a4a" stroke-width="0.8"/>
<circle cx="442.20" cy="478.20" r="1.45" fill="#fff" stroke="#4a4a4a" stroke-width="0.8"/>
<circle cx="482.55" cy="478.00" r="1.45" fill="#fff" stroke="#4a4a4a" stroke-width="0.8"/>
<polyline points="307.70,509.90 321.15,503.80 348.05,505.70 361.50,505.10 374.95,500.50 388.40,495.30 401.85,491.30 415.30,494.20 428.75,490.00 442.20,486.60 482.55,485.20" fill="none" stroke="#2e2e2e" stroke-width="0.75"/>
<line x1="321.15" y1="501.50" x2="321.15" y2="506.00" stroke="#6a6a6a" stroke-width="0.8" />
<line x1="319.55" y1="501.50" x2="322.75" y2="501.50" stroke="#6a6a6a" stroke-width="0.8" />
<line x1="319.55" y1="506.00" x2="322.75" y2="506.00" stroke="#6a6a6a" stroke-width="0.8" />
<line x1="388.40" y1="489.90" x2="388.40" y2="510.00" stroke="#6a6a6a" stroke-width="0.8" />
<line x1="386.80" y1="489.90" x2="390.00" y2="489.90" stroke="#6a6a6a" stroke-width="0.8" />
<line x1="386.80" y1="510.00" x2="390.00" y2="510.00" stroke="#6a6a6a" stroke-width="0.8" />
<line x1="401.85" y1="482.00" x2="401.85" y2="501.00" stroke="#6a6a6a" stroke-width="0.8" />
<line x1="400.25" y1="482.00" x2="403.45" y2="482.00" stroke="#6a6a6a" stroke-width="0.8" />
<line x1="400.25" y1="501.00" x2="403.45" y2="501.00" stroke="#6a6a6a" stroke-width="0.8" />
<line x1="415.30" y1="492.00" x2="415.30" y2="496.50" stroke="#6a6a6a" stroke-width="0.8" />
<line x1="413.70" y1="492.00" x2="416.90" y2="492.00" stroke="#6a6a6a" stroke-width="0.8" />
<line x1="413.70" y1="496.50" x2="416.90" y2="496.50" stroke="#6a6a6a" stroke-width="0.8" />
<line x1="428.75" y1="486.00" x2="428.75" y2="495.30" stroke="#6a6a6a" stroke-width="0.8" />
<line x1="427.15" y1="486.00" x2="430.35" y2="486.00" stroke="#6a6a6a" stroke-width="0.8" />
<line x1="427.15" y1="495.30" x2="430.35" y2="495.30" stroke="#6a6a6a" stroke-width="0.8" />
<line x1="442.20" y1="477.00" x2="442.20" y2="496.10" stroke="#6a6a6a" stroke-width="0.8" />
<line x1="440.60" y1="477.00" x2="443.80" y2="477.00" stroke="#6a6a6a" stroke-width="0.8" />
<line x1="440.60" y1="496.10" x2="443.80" y2="496.10" stroke="#6a6a6a" stroke-width="0.8" />
<line x1="482.55" y1="475.00" x2="482.55" y2="495.30" stroke="#6a6a6a" stroke-width="0.8" />
<line x1="480.95" y1="475.00" x2="484.15" y2="475.00" stroke="#6a6a6a" stroke-width="0.8" />
<line x1="480.95" y1="495.30" x2="484.15" y2="495.30" stroke="#6a6a6a" stroke-width="0.8" />
<circle cx="307.70" cy="509.90" r="1.8" fill="#1a1a1a"/>
<circle cx="321.15" cy="503.80" r="1.8" fill="#1a1a1a"/>
<circle cx="348.05" cy="505.70" r="1.8" fill="#1a1a1a"/>
<circle cx="361.50" cy="505.10" r="1.8" fill="#1a1a1a"/>
<circle cx="374.95" cy="500.50" r="1.8" fill="#1a1a1a"/>
<circle cx="388.40" cy="495.30" r="1.8" fill="#1a1a1a"/>
<circle cx="401.85" cy="491.30" r="1.8" fill="#1a1a1a"/>
<circle cx="415.30" cy="494.20" r="1.8" fill="#1a1a1a"/>
<circle cx="428.75" cy="490.00" r="1.8" fill="#1a1a1a"/>
<circle cx="442.20" cy="486.60" r="1.8" fill="#1a1a1a"/>
<circle cx="482.55" cy="485.20" r="1.8" fill="#1a1a1a"/>
<text x="312.3" y="383.1" font-size="7.35" textLength="62.7" lengthAdjust="spacingAndGlyphs" fill="#1a1a1a" stroke="#1a1a1a" stroke-width="0.2"><tspan font-style="italic">Euhalothece</tspan> sp. Z1</text>
<line x1="316.00" y1="392.70" x2="327.90" y2="392.70" stroke="#bdbdbd" stroke-width="1.5" />
<circle cx="321.95" cy="392.70" r="1.4" fill="#fff" stroke="#555" stroke-width="0.8"/>
<line x1="316.00" y1="401.50" x2="327.90" y2="401.50" stroke="#1a1a1a" stroke-width="0.7" />
<circle cx="321.95" cy="401.50" r="1.7" fill="#1a1a1a"/>
<text transform="translate(330.90,393.80) scale(0.8630769230769232,1)" font-size="6.5" fill="#1a1a1a" stroke="#1a1a1a" stroke-width="0.2">time vs OD<tspan font-size="5.6" dy="1.7">540</tspan></text>
<text transform="translate(330.90,404.30) scale(0.8630769230769232,1)" font-size="6.5" fill="#1a1a1a" stroke="#1a1a1a" stroke-width="0.2">time vs cells mL<tspan font-size="5.0" dy="-2.8">&#8722;1</tspan><tspan dy="2.8"> &#8226;10</tspan><tspan font-size="5.2" dy="-2.8">6</tspan></text>
<text x="402.3" y="530.8" font-size="6.5" text-anchor="middle" textLength="21.3" lengthAdjust="spacingAndGlyphs" fill="#1a1a1a" stroke="#1a1a1a" stroke-width="0.22">t (days)</text>
<text x="397.9" y="545.0" font-size="10" text-anchor="middle" font-family="'Liberation Serif', 'Times New Roman', serif" font-weight="bold" fill="#000">(f)</text>
<text transform="translate(280.90,442.30) rotate(-90)" font-size="7.0" text-anchor="middle" fill="#1a1a1a" stroke="#1a1a1a" stroke-width="0.15" textLength="16.4" lengthAdjust="spacingAndGlyphs">OD<tspan font-size="4.4" dy="1.3">540</tspan></text>
<text transform="translate(520.10,441.90) rotate(-90)" font-size="7.0" text-anchor="middle" fill="#1a1a1a" stroke="#1a1a1a" stroke-width="0.15" textLength="39.8" lengthAdjust="spacingAndGlyphs">cells mL<tspan font-size="4.4" dy="-2.4">&#8722;1</tspan><tspan dy="2.4"> &#8226;10</tspan><tspan font-size="4.4" dy="-2.4">6</tspan></text>
</svg>
</body></html>
